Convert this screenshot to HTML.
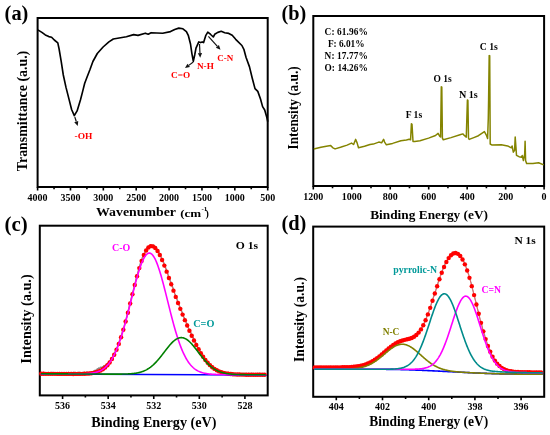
<!DOCTYPE html>
<html><head><meta charset="utf-8"><style>
html,body{margin:0;padding:0;background:#fff;width:550px;height:435px;overflow:hidden}
svg{display:block;will-change:transform}
text{font-family:'Liberation Serif', serif;font-weight:bold}
</style></head><body>
<svg width="550" height="435" viewBox="0 0 550 435">
<rect width="550" height="435" fill="#fff"/>
<rect x="37.60" y="18.00" width="230.10" height="169.00" fill="none" stroke="#000" stroke-width="2.0"/>
<path d="M37.60,187.00V190.50M70.47,187.00V190.50M103.34,187.00V190.50M136.21,187.00V190.50M169.09,187.00V190.50M201.96,187.00V190.50M234.83,187.00V190.50M267.70,187.00V190.50" stroke="#000" stroke-width="1.6" fill="none"/>
<path d="M54.04,187.00V189.20M86.91,187.00V189.20M119.78,187.00V189.20M152.65,187.00V189.20M185.52,187.00V189.20M218.39,187.00V189.20M251.26,187.00V189.20" stroke="#000" stroke-width="1.6" fill="none"/>
<text x="37.60" y="200.50" font-size="10" fill="#000" text-anchor="middle" >4000</text>
<text x="70.47" y="200.50" font-size="10" fill="#000" text-anchor="middle" >3500</text>
<text x="103.34" y="200.50" font-size="10" fill="#000" text-anchor="middle" >3000</text>
<text x="136.21" y="200.50" font-size="10" fill="#000" text-anchor="middle" >2500</text>
<text x="169.09" y="200.50" font-size="10" fill="#000" text-anchor="middle" >2000</text>
<text x="201.96" y="200.50" font-size="10" fill="#000" text-anchor="middle" >1500</text>
<text x="234.83" y="200.50" font-size="10" fill="#000" text-anchor="middle" >1000</text>
<text x="267.70" y="200.50" font-size="10" fill="#000" text-anchor="middle" >500</text>
<path d="M37.80,29.90 L41.90,32.40 L45.30,34.90 L48.80,36.60 L51.60,37.20 L54.30,40.00 L57.80,42.80 L59.10,49.00 L61.20,61.40 L63.30,75.00 L66.00,87.40 L68.80,98.40 L71.60,109.50 L74.30,115.70 L77.10,110.90 L80.50,99.80 L82.60,91.60 L84.70,83.30 L86.70,78.00 L90.00,69.50 L92.90,61.50 L97.30,53.50 L103.10,47.00 L108.90,41.90 L113.30,39.00 L119.10,38.00 L126.40,36.80 L133.60,34.60 L138.00,35.40 L145.30,33.20 L148.20,34.20 L151.10,32.70 L162.70,33.20 L170.50,31.60 L174.70,29.50 L178.80,28.10 L182.90,28.80 L186.40,31.60 L188.40,35.70 L190.50,44.00 L191.90,53.60 L193.30,61.20 L194.70,55.00 L196.00,48.10 L198.80,41.90 L200.60,42.60 L202.20,41.90 L203.60,42.60 L205.70,35.70 L207.80,32.20 L209.80,33.60 L211.20,35.00 L213.30,37.00 L214.70,34.30 L217.80,32.40 L221.20,31.30 L224.70,32.70 L228.80,33.40 L232.20,35.20 L235.70,39.30 L241.90,45.50 L244.00,49.70 L246.00,57.20 L249.50,66.90 L252.20,78.00 L255.00,88.60 L257.80,91.40 L260.50,99.00 L262.60,106.60 L264.70,110.00 L266.70,116.90 L267.80,121.70" fill="none" stroke="#000" stroke-width="1.65" stroke-linejoin="round"/>
<path d="M74.80,117.00L76.27,121.53" stroke="#111" stroke-width="1.2"/>
<path d="M77.70,125.90L74.28,122.18L78.27,120.88Z" fill="#111"/>
<path d="M193.30,62.00L188.71,65.38" stroke="#111" stroke-width="1.2"/>
<path d="M185.00,68.10L187.46,63.68L189.95,67.07Z" fill="#111"/>
<path d="M199.50,44.00L199.97,53.21" stroke="#111" stroke-width="1.2"/>
<path d="M200.20,57.80L197.87,53.31L202.06,53.10Z" fill="#111"/>
<path d="M208.40,36.40L217.40,46.30" stroke="#111" stroke-width="1.2"/>
<path d="M220.50,49.70L215.85,47.71L218.96,44.88Z" fill="#111"/>
<text x="74.50" y="138.60" font-size="9.2" fill="#ff0000" text-anchor="start" textLength="17.80" lengthAdjust="spacingAndGlyphs" >-OH</text>
<text x="171.10" y="78.20" font-size="9.2" fill="#ff0000" text-anchor="start" textLength="19.10" lengthAdjust="spacingAndGlyphs" >C=O</text>
<text x="197.00" y="69.30" font-size="9.2" fill="#ff0000" text-anchor="start" textLength="16.80" lengthAdjust="spacingAndGlyphs" >N-H</text>
<text x="217.30" y="60.60" font-size="9.2" fill="#ff0000" text-anchor="start" textLength="16.00" lengthAdjust="spacingAndGlyphs" >C-N</text>
<text x="96" y="216.2" font-size="13.5" textLength="80" lengthAdjust="spacingAndGlyphs">Wavenumber</text>
<text x="180.2" y="216.6" font-size="10" textLength="21" lengthAdjust="spacingAndGlyphs">(cm</text>
<text x="201.5" y="211" font-size="7">-1</text>
<text x="205.6" y="216.8" font-size="10">)</text>
<text transform="translate(27.20,111.00) rotate(-90)" font-size="13.8" text-anchor="middle" textLength="120.50" lengthAdjust="spacingAndGlyphs">Transmittance (a.u.)</text>
<text x="4.60" y="19.80" font-size="20.5" fill="#000" text-anchor="start" textLength="23.80" lengthAdjust="spacingAndGlyphs" >(a)</text>
<rect x="313.30" y="16.00" width="230.80" height="170.00" fill="none" stroke="#000" stroke-width="2.0"/>
<path d="M544.10,186.00V189.50M505.63,186.00V189.50M467.17,186.00V189.50M428.70,186.00V189.50M390.23,186.00V189.50M351.77,186.00V189.50M313.30,186.00V189.50" stroke="#000" stroke-width="1.6" fill="none"/>
<path d="M524.87,186.00V188.20M486.40,186.00V188.20M447.93,186.00V188.20M409.47,186.00V188.20M371.00,186.00V188.20M332.53,186.00V188.20" stroke="#000" stroke-width="1.6" fill="none"/>
<text x="544.10" y="199.50" font-size="10" fill="#000" text-anchor="middle" >0</text>
<text x="505.63" y="199.50" font-size="10" fill="#000" text-anchor="middle" >200</text>
<text x="467.17" y="199.50" font-size="10" fill="#000" text-anchor="middle" >400</text>
<text x="428.70" y="199.50" font-size="10" fill="#000" text-anchor="middle" >600</text>
<text x="390.23" y="199.50" font-size="10" fill="#000" text-anchor="middle" >800</text>
<text x="351.77" y="199.50" font-size="10" fill="#000" text-anchor="middle" >1000</text>
<text x="313.30" y="199.50" font-size="10" fill="#000" text-anchor="middle" >1200</text>
<path d="M313.80,148.90 L320.90,147.30 L326.40,146.20 L330.70,145.60 L332.90,147.80 L335.10,148.90 L340.50,147.30 L347.10,145.10 L351.50,143.10 L353.60,144.50 L355.60,139.40 L357.10,142.90 L358.50,147.80 L364.50,146.20 L370.00,144.50 L373.30,144.10 L378.80,142.10 L381.60,142.80 L383.60,139.30 L384.60,142.10 L386.40,144.80 L392.60,143.40 L400.90,140.70 L406.40,140.00 L409.10,139.30 L410.60,139.80 L411.40,123.80 L412.00,124.40 L413.00,141.40 L414.70,141.40 L420.00,140.70 L428.60,138.10 L435.50,135.50 L438.10,133.40 L439.80,136.40 L440.60,137.00 L441.30,86.80 L441.80,87.20 L442.40,138.10 L443.30,139.80 L451.00,137.60 L460.00,134.80 L462.80,133.90 L464.60,135.70 L466.30,137.10 L467.40,100.00 L467.90,100.30 L468.50,138.00 L469.20,139.40 L473.80,137.60 L478.40,135.70 L484.40,131.60 L486.20,134.80 L487.60,138.50 L488.30,118.00 L488.60,100.00 L489.20,55.60 L489.70,55.80 L490.20,144.00 L491.70,144.90 L501.30,144.70 L507.60,145.90 L511.40,147.80 L512.10,145.90 L513.30,152.20 L514.60,150.30 L515.20,137.10 L515.90,146.60 L516.50,155.40 L519.00,156.70 L521.60,157.30 L522.20,155.40 L523.40,160.50 L524.70,154.10 L525.10,141.20 L525.60,160.50 L526.60,163.60 L532.90,163.60 L538.60,162.70 L543.70,164.90" fill="none" stroke="#848400" stroke-width="1.5" stroke-linejoin="round"/>
<text x="346.2" y="35.1" font-size="9.3" text-anchor="middle" textLength="43.2" lengthAdjust="spacing">C: 61.96%</text>
<text x="346.2" y="46.8" font-size="9.3" text-anchor="middle" textLength="36.6" lengthAdjust="spacing">F: 6.01%</text>
<text x="346.2" y="58.8" font-size="9.3" text-anchor="middle" textLength="43.2" lengthAdjust="spacing">N: 17.77%</text>
<text x="346.2" y="70.5" font-size="9.3" text-anchor="middle" textLength="43.2" lengthAdjust="spacing">O: 14.26%</text>
<text x="405.70" y="118.20" font-size="9.5" fill="#000" text-anchor="start" textLength="16.50" lengthAdjust="spacingAndGlyphs" >F 1s</text>
<text x="433.40" y="82.40" font-size="9.5" fill="#000" text-anchor="start" textLength="18.20" lengthAdjust="spacingAndGlyphs" >O 1s</text>
<text x="458.90" y="97.60" font-size="9.5" fill="#000" text-anchor="start" textLength="18.90" lengthAdjust="spacingAndGlyphs" >N 1s</text>
<text x="479.80" y="49.70" font-size="9.5" fill="#000" text-anchor="start" textLength="18.10" lengthAdjust="spacingAndGlyphs" >C 1s</text>
<text x="370.20" y="219.10" font-size="13.4" fill="#000" text-anchor="start" textLength="117.80" lengthAdjust="spacingAndGlyphs" >Binding Energy (eV)</text>
<text transform="translate(297.80,107.90) rotate(-90)" font-size="13.6" text-anchor="middle" textLength="83.30" lengthAdjust="spacingAndGlyphs">Intensity (a.u.)</text>
<text x="281.40" y="19.80" font-size="20.5" fill="#000" text-anchor="start" textLength="24.80" lengthAdjust="spacingAndGlyphs" >(b)</text>
<rect x="39.80" y="225.70" width="227.90" height="169.70" fill="none" stroke="#000" stroke-width="2.0"/>
<path d="M62.59,395.40V398.90M108.17,395.40V398.90M153.75,395.40V398.90M199.33,395.40V398.90M244.91,395.40V398.90" stroke="#000" stroke-width="1.6" fill="none"/>
<path d="M85.38,395.40V397.60M130.96,395.40V397.60M176.54,395.40V397.60M222.12,395.40V397.60" stroke="#000" stroke-width="1.6" fill="none"/>
<text x="62.59" y="408.50" font-size="10" fill="#000" text-anchor="middle" >536</text>
<text x="108.17" y="408.50" font-size="10" fill="#000" text-anchor="middle" >534</text>
<text x="153.75" y="408.50" font-size="10" fill="#000" text-anchor="middle" >532</text>
<text x="199.33" y="408.50" font-size="10" fill="#000" text-anchor="middle" >530</text>
<text x="244.91" y="408.50" font-size="10" fill="#000" text-anchor="middle" >528</text>
<path d="M40.80,372.59 L41.30,372.96 L41.80,372.75 L42.30,373.04 L42.80,373.06 L43.30,372.39 L43.80,372.33 L44.30,373.32 L44.80,372.63 L45.30,372.61 L45.80,373.52 L46.30,372.89 L46.80,373.33 L47.30,372.90 L47.80,373.10 L48.30,372.52 L48.80,373.10 L49.30,373.38 L49.80,372.97 L50.30,373.24 L50.80,373.15 L51.30,372.43 L51.80,373.26 L52.30,373.06 L52.80,372.72 L53.30,372.40 L53.80,373.40 L54.30,372.93 L54.80,373.23 L55.30,373.42 L55.80,373.23 L56.30,373.48 L56.80,372.85 L57.30,373.34 L57.80,372.91 L58.30,373.50 L58.80,373.44 L59.30,372.50 L59.80,372.55 L60.30,372.65 L60.80,373.55 L61.30,372.92 L61.80,373.15 L62.30,372.76 L62.80,373.01 L63.30,372.86 L63.80,372.82 L64.30,373.11 L64.80,373.11 L65.30,373.49 L65.80,373.23 L66.30,373.53 L66.80,373.44 L67.30,373.60 L67.80,373.22 L68.30,372.61 L68.80,373.45 L69.30,373.58 L69.80,373.51 L70.30,373.11 L70.80,373.28 L71.30,372.68 L71.80,373.42 L72.30,373.11 L72.80,372.77 L73.30,372.50 L73.80,373.45 L74.30,373.61 L74.80,372.53 L75.30,373.38 L75.80,372.91 L76.30,372.60 L76.80,372.77 L77.30,373.33 L77.80,373.46 L78.30,372.46 L78.80,373.14 L79.30,372.45 L79.80,373.25 L80.30,372.78 L80.80,373.43 L81.30,373.54 L81.80,372.96 L82.30,373.53 L82.80,372.69 L83.30,372.40 L83.80,373.01 L84.30,372.31 L84.80,372.48 L85.30,372.71 L85.80,372.93 L86.30,372.35 L86.80,372.17 L87.30,373.12 L87.80,372.41 L88.30,373.13 L88.80,372.99 L89.30,372.29 L89.80,372.30 L90.30,372.28 L90.80,372.32 L91.30,372.13 L91.80,371.95 L92.30,371.86 L92.80,372.07 L93.30,371.36 L93.80,371.06 L94.30,371.18 L94.80,370.36 L95.30,370.19 L95.80,370.74 L96.30,369.92 L96.80,369.68 L97.30,368.76 L97.80,368.97 L98.30,368.90 L98.80,367.96 L99.30,368.42 L99.80,368.20 L100.30,367.28 L100.80,367.73 L101.30,367.32 L101.80,367.37 L102.30,366.76 L102.80,366.97 L103.30,366.79 L103.80,365.70 L104.30,365.49 L104.80,365.96 L105.30,366.01 L105.80,364.83 L106.30,364.72 L106.80,364.49 L107.30,363.74 L107.80,363.32 L108.30,362.76 L108.80,362.28 L109.30,361.96 L109.80,360.98 L110.30,360.40 L110.80,360.16 L111.30,358.52 L111.80,358.38 L112.30,357.75 L112.80,356.36 L113.30,355.35 L113.80,355.09 L114.30,353.42 L114.80,352.33 L115.30,351.55 L115.80,350.76 L116.30,348.89 L116.80,347.96 L117.30,346.73 L117.80,346.06 L118.30,344.27 L118.80,343.41 L119.30,341.19 L119.80,339.95 L120.30,338.85 L120.80,337.61 L121.30,335.53 L121.80,333.66 L122.30,331.90 L122.80,330.72 L123.30,328.61 L123.80,327.61 L124.30,325.87 L124.80,323.28 L125.30,321.56 L125.80,320.33 L126.30,318.24 L126.80,316.52 L127.30,314.02 L127.80,311.80 L128.30,310.01 L128.80,308.62 L129.30,305.97 L129.80,304.04 L130.30,302.09 L130.80,300.05 L131.30,297.99 L131.80,296.55 L132.30,293.59 L132.80,291.37 L133.30,290.46 L133.80,288.36 L134.30,286.48 L134.80,283.82 L135.30,282.46 L135.80,280.48 L136.30,277.71 L136.80,276.44 L137.30,274.69 L137.80,272.65 L138.30,270.69 L138.80,268.66 L139.30,267.02 L139.80,265.22 L140.30,263.42 L140.80,262.49 L141.30,260.62 L141.80,259.81 L142.30,257.51 L142.80,257.21 L143.30,255.70 L143.80,254.79 L144.30,253.63 L144.80,252.58 L145.30,251.21 L145.80,249.62 L146.30,249.66 L146.80,248.21 L147.30,247.67 L147.80,247.50 L148.30,246.79 L148.80,246.20 L149.30,246.45 L149.80,245.75 L150.30,245.20 L150.80,244.94 L151.30,245.59 L151.80,245.12 L152.30,245.56 L152.80,245.19 L153.30,245.22 L153.80,245.91 L154.30,246.60 L154.80,246.24 L155.30,247.47 L155.80,248.18 L156.30,248.65 L156.80,249.34 L157.30,249.08 L157.80,250.61 L158.30,251.73 L158.80,251.63 L159.30,252.83 L159.80,253.80 L160.30,255.13 L160.80,256.07 L161.30,257.23 L161.80,258.72 L162.30,258.96 L162.80,260.22 L163.30,261.53 L163.80,262.78 L164.30,263.99 L164.80,266.37 L165.30,267.54 L165.80,267.95 L166.30,269.80 L166.80,270.93 L167.30,272.30 L167.80,273.73 L168.30,275.47 L168.80,276.79 L169.30,277.91 L169.80,279.11 L170.30,280.68 L170.80,281.83 L171.30,283.75 L171.80,285.34 L172.30,286.33 L172.80,287.36 L173.30,288.87 L173.80,290.48 L174.30,292.14 L174.80,293.72 L175.30,294.60 L175.80,296.46 L176.30,297.59 L176.80,298.70 L177.30,299.96 L177.80,301.43 L178.30,302.99 L178.80,303.96 L179.30,305.58 L179.80,306.59 L180.30,307.61 L180.80,309.23 L181.30,310.68 L181.80,311.19 L182.30,312.85 L182.80,314.09 L183.30,315.86 L183.80,317.15 L184.30,317.69 L184.80,319.52 L185.30,320.59 L185.80,321.14 L186.30,322.56 L186.80,323.32 L187.30,325.31 L187.80,326.28 L188.30,327.70 L188.80,328.72 L189.30,329.70 L189.80,330.89 L190.30,331.80 L190.80,332.34 L191.30,334.01 L191.80,334.39 L192.30,335.63 L192.80,337.44 L193.30,337.61 L193.80,338.70 L194.30,339.73 L194.80,341.68 L195.30,341.83 L195.80,342.63 L196.30,344.58 L196.80,344.68 L197.30,346.49 L197.80,347.21 L198.30,348.32 L198.80,349.35 L199.30,349.79 L199.80,350.91 L200.30,350.85 L200.80,352.56 L201.30,353.06 L201.80,354.10 L202.30,354.15 L202.80,355.69 L203.30,356.65 L203.80,356.33 L204.30,357.35 L204.80,358.33 L205.30,359.31 L205.80,359.26 L206.30,359.82 L206.80,360.52 L207.30,361.55 L207.80,362.29 L208.30,362.42 L208.80,362.92 L209.30,363.48 L209.80,363.93 L210.30,364.49 L210.80,364.56 L211.30,365.51 L211.80,366.51 L212.30,366.25 L212.80,367.05 L213.30,366.73 L213.80,367.73 L214.30,368.16 L214.80,368.40 L215.30,368.53 L215.80,368.79 L216.30,369.28 L216.80,369.86 L217.30,369.23 L217.80,369.41 L218.30,370.44 L218.80,370.87 L219.30,370.60 L219.80,370.72 L220.30,371.24 L220.80,370.78 L221.30,371.05 L221.80,371.14 L222.30,371.75 L222.80,371.57 L223.30,371.61 L223.80,372.29 L224.30,372.72 L224.80,372.05 L225.30,372.65 L225.80,372.40 L226.30,373.02 L226.80,372.78 L227.30,372.48 L227.80,372.50 L228.30,372.34 L228.80,372.95 L229.30,372.90 L229.80,372.70 L230.30,372.98 L230.80,372.99 L231.30,373.58 L231.80,372.86 L232.30,373.92 L232.80,373.34 L233.30,373.52 L233.80,373.40 L234.30,373.87 L234.80,373.88 L235.30,373.59 L235.80,373.52 L236.30,373.83 L236.80,374.01 L237.30,373.48 L237.80,373.90 L238.30,374.19 L238.80,373.61 L239.30,373.34 L239.80,373.36 L240.30,373.95 L240.80,373.91 L241.30,374.26 L241.80,374.15 L242.30,373.42 L242.80,373.37 L243.30,373.46 L243.80,373.38 L244.30,374.00 L244.80,374.20 L245.30,374.25 L245.80,373.48 L246.30,374.22 L246.80,373.56 L247.30,373.70 L247.80,374.07 L248.30,373.30 L248.80,373.31 L249.30,374.21 L249.80,373.56 L250.30,373.64 L250.80,373.91 L251.30,374.03 L251.80,373.23 L252.30,373.63 L252.80,373.75 L253.30,373.82 L253.80,373.49 L254.30,373.94 L254.80,374.39 L255.30,373.71 L255.80,373.90 L256.30,373.39 L256.80,373.58 L257.30,374.05 L257.80,373.39 L258.30,374.32 L258.80,374.35 L259.30,373.38 L259.80,374.39 L260.30,373.72 L260.80,374.20 L261.30,374.18 L261.80,373.63 L262.30,374.09 L262.80,374.06 L263.30,374.25 L263.80,373.60 L264.30,374.19 L264.80,374.44 L265.30,374.10 L265.80,373.93" fill="none" stroke="#8a8a8a" stroke-width="1.3"/>
<path d="M40.80,373.80 L41.30,373.81 L41.80,373.81 L42.30,373.81 L42.80,373.81 L43.30,373.82 L43.80,373.82 L44.30,373.82 L44.80,373.82 L45.30,373.82 L45.80,373.83 L46.30,373.83 L46.80,373.83 L47.30,373.83 L47.80,373.84 L48.30,373.84 L48.80,373.84 L49.30,373.84 L49.80,373.84 L50.30,373.85 L50.80,373.85 L51.30,373.85 L51.80,373.85 L52.30,373.85 L52.80,373.86 L53.30,373.86 L53.80,373.86 L54.30,373.86 L54.80,373.87 L55.30,373.87 L55.80,373.87 L56.30,373.87 L56.80,373.87 L57.30,373.88 L57.80,373.88 L58.30,373.88 L58.80,373.88 L59.30,373.88 L59.80,373.89 L60.30,373.89 L60.80,373.89 L61.30,373.89 L61.80,373.90 L62.30,373.90 L62.80,373.90 L63.30,373.90 L63.80,373.90 L64.30,373.90 L64.80,373.91 L65.30,373.91 L65.80,373.91 L66.30,373.91 L66.80,373.91 L67.30,373.92 L67.80,373.92 L68.30,373.92 L68.80,373.92 L69.30,373.92 L69.80,373.92 L70.30,373.92 L70.80,373.92 L71.30,373.92 L71.80,373.92 L72.30,373.93 L72.80,373.93 L73.30,373.93 L73.80,373.92 L74.30,373.92 L74.80,373.92 L75.30,373.92 L75.80,373.92 L76.30,373.92 L76.80,373.92 L77.30,373.91 L77.80,373.91 L78.30,373.90 L78.80,373.90 L79.30,373.89 L79.80,373.89 L80.30,373.88 L80.80,373.87 L81.30,373.86 L81.80,373.85 L82.30,373.84 L82.80,373.82 L83.30,373.81 L83.80,373.79 L84.30,373.77 L84.80,373.75 L85.30,373.73 L85.80,373.71 L86.30,373.68 L86.80,373.65 L87.30,373.62 L87.80,373.58 L88.30,373.54 L88.80,373.50 L89.30,373.46 L89.80,373.41 L90.30,373.35 L90.80,373.29 L91.30,373.23 L91.80,373.16 L92.30,373.08 L92.80,373.00 L93.30,372.91 L93.80,372.82 L94.30,372.71 L94.80,372.60 L95.30,372.48 L95.80,372.36 L96.30,372.22 L96.80,372.07 L97.30,371.91 L97.80,371.74 L98.30,371.56 L98.80,371.37 L99.30,371.16 L99.80,370.94 L100.30,370.70 L100.80,370.45 L101.30,370.18 L101.80,369.90 L102.30,369.59 L102.80,369.27 L103.30,368.93 L103.80,368.57 L104.30,368.19 L104.80,367.78 L105.30,367.35 L105.80,366.90 L106.30,366.42 L106.80,365.92 L107.30,365.39 L107.80,364.83 L108.30,364.25 L108.80,363.63 L109.30,362.98 L109.80,362.30 L110.30,361.59 L110.80,360.85 L111.30,360.07 L111.80,359.26 L112.30,358.41 L112.80,357.53 L113.30,356.61 L113.80,355.65 L114.30,354.65 L114.80,353.61 L115.30,352.54 L115.80,351.42 L116.30,350.27 L116.80,349.07 L117.30,347.84 L117.80,346.56 L118.30,345.24 L118.80,343.88 L119.30,342.48 L119.80,341.04 L120.30,339.57 L120.80,338.05 L121.30,336.49 L121.80,334.89 L122.30,333.26 L122.80,331.59 L123.30,329.88 L123.80,328.14 L124.30,326.37 L124.80,324.56 L125.30,322.73 L125.80,320.86 L126.30,318.97 L126.80,317.05 L127.30,315.11 L127.80,313.14 L128.30,311.16 L128.80,309.16 L129.30,307.15 L129.80,305.12 L130.30,303.09 L130.80,301.04 L131.30,299.00 L131.80,296.95 L132.30,294.90 L132.80,292.86 L133.30,290.83 L133.80,288.80 L134.30,286.79 L134.80,284.80 L135.30,282.82 L135.80,280.87 L136.30,278.94 L136.80,277.05 L137.30,275.18 L137.80,273.35 L138.30,271.56 L138.80,269.81 L139.30,268.11 L139.80,266.45 L140.30,264.84 L140.80,263.28 L141.30,261.78 L141.80,260.34 L142.30,258.95 L142.80,257.63 L143.30,256.37 L143.80,255.18 L144.30,254.05 L144.80,253.00 L145.30,252.01 L145.80,251.10 L146.30,250.27 L146.80,249.50 L147.30,248.81 L147.80,248.20 L148.30,247.66 L148.80,247.21 L149.30,246.82 L149.80,246.52 L150.30,246.29 L150.80,246.13 L151.30,246.06 L151.80,246.05 L152.30,246.12 L152.80,246.27 L153.30,246.48 L153.80,246.76 L154.30,247.12 L154.80,247.54 L155.30,248.02 L155.80,248.57 L156.30,249.18 L156.80,249.85 L157.30,250.58 L157.80,251.36 L158.30,252.19 L158.80,253.07 L159.30,254.01 L159.80,254.98 L160.30,256.00 L160.80,257.06 L161.30,258.16 L161.80,259.29 L162.30,260.46 L162.80,261.66 L163.30,262.88 L163.80,264.13 L164.30,265.41 L164.80,266.70 L165.30,268.02 L165.80,269.35 L166.30,270.70 L166.80,272.06 L167.30,273.43 L167.80,274.81 L168.30,276.19 L168.80,277.59 L169.30,278.98 L169.80,280.38 L170.30,281.78 L170.80,283.18 L171.30,284.58 L171.80,285.98 L172.30,287.38 L172.80,288.77 L173.30,290.15 L173.80,291.54 L174.30,292.91 L174.80,294.28 L175.30,295.64 L175.80,297.00 L176.30,298.34 L176.80,299.68 L177.30,301.01 L177.80,302.33 L178.30,303.65 L178.80,304.95 L179.30,306.25 L179.80,307.54 L180.30,308.81 L180.80,310.09 L181.30,311.35 L181.80,312.60 L182.30,313.84 L182.80,315.08 L183.30,316.31 L183.80,317.53 L184.30,318.74 L184.80,319.94 L185.30,321.14 L185.80,322.32 L186.30,323.50 L186.80,324.67 L187.30,325.83 L187.80,326.99 L188.30,328.13 L188.80,329.27 L189.30,330.39 L189.80,331.51 L190.30,332.62 L190.80,333.72 L191.30,334.81 L191.80,335.89 L192.30,336.95 L192.80,338.01 L193.30,339.06 L193.80,340.09 L194.30,341.11 L194.80,342.12 L195.30,343.12 L195.80,344.10 L196.30,345.07 L196.80,346.03 L197.30,346.97 L197.80,347.90 L198.30,348.81 L198.80,349.71 L199.30,350.59 L199.80,351.46 L200.30,352.30 L200.80,353.14 L201.30,353.95 L201.80,354.75 L202.30,355.53 L202.80,356.29 L203.30,357.03 L203.80,357.76 L204.30,358.46 L204.80,359.15 L205.30,359.82 L205.80,360.47 L206.30,361.10 L206.80,361.72 L207.30,362.31 L207.80,362.89 L208.30,363.44 L208.80,363.98 L209.30,364.50 L209.80,365.01 L210.30,365.49 L210.80,365.96 L211.30,366.41 L211.80,366.84 L212.30,367.25 L212.80,367.65 L213.30,368.04 L213.80,368.40 L214.30,368.75 L214.80,369.09 L215.30,369.41 L215.80,369.71 L216.30,370.01 L216.80,370.28 L217.30,370.55 L217.80,370.80 L218.30,371.04 L218.80,371.27 L219.30,371.48 L219.80,371.69 L220.30,371.88 L220.80,372.06 L221.30,372.23 L221.80,372.40 L222.30,372.55 L222.80,372.70 L223.30,372.83 L223.80,372.96 L224.30,373.08 L224.80,373.19 L225.30,373.30 L225.80,373.40 L226.30,373.49 L226.80,373.58 L227.30,373.66 L227.80,373.74 L228.30,373.81 L228.80,373.88 L229.30,373.94 L229.80,374.00 L230.30,374.05 L230.80,374.10 L231.30,374.15 L231.80,374.19 L232.30,374.23 L232.80,374.27 L233.30,374.30 L233.80,374.34 L234.30,374.37 L234.80,374.39 L235.30,374.42 L235.80,374.44 L236.30,374.46 L236.80,374.48 L237.30,374.50 L237.80,374.52 L238.30,374.54 L238.80,374.55 L239.30,374.57 L239.80,374.58 L240.30,374.59 L240.80,374.60 L241.30,374.61 L241.80,374.62 L242.30,374.63 L242.80,374.64 L243.30,374.65 L243.80,374.65 L244.30,374.66 L244.80,374.67 L245.30,374.67 L245.80,374.68 L246.30,374.68 L246.80,374.69 L247.30,374.69 L247.80,374.70 L248.30,374.70 L248.80,374.70 L249.30,374.71 L249.80,374.71 L250.30,374.71 L250.80,374.72 L251.30,374.72 L251.80,374.72 L252.30,374.73 L252.80,374.73 L253.30,374.73 L253.80,374.73 L254.30,374.74 L254.80,374.74 L255.30,374.74 L255.80,374.75 L256.30,374.75 L256.80,374.75 L257.30,374.75 L257.80,374.76 L258.30,374.76 L258.80,374.76 L259.30,374.76 L259.80,374.76 L260.30,374.77 L260.80,374.77 L261.30,374.77 L261.80,374.77 L262.30,374.78 L262.80,374.78 L263.30,374.78 L263.80,374.78 L264.30,374.78 L264.80,374.79 L265.30,374.79 L265.80,374.79" fill="none" stroke="#ff5050" stroke-width="0.8"/>
<g fill="#ff0000"><circle cx="41.30" cy="373.81" r="2.2"/><circle cx="43.58" cy="373.82" r="2.2"/><circle cx="45.86" cy="373.83" r="2.2"/><circle cx="48.14" cy="373.84" r="2.2"/><circle cx="50.42" cy="373.85" r="2.2"/><circle cx="52.69" cy="373.86" r="2.2"/><circle cx="54.97" cy="373.87" r="2.2"/><circle cx="57.25" cy="373.88" r="2.2"/><circle cx="59.53" cy="373.89" r="2.2"/><circle cx="61.81" cy="373.90" r="2.2"/><circle cx="64.09" cy="373.90" r="2.2"/><circle cx="66.37" cy="373.91" r="2.2"/><circle cx="68.65" cy="373.92" r="2.2"/><circle cx="70.93" cy="373.92" r="2.2"/><circle cx="73.21" cy="373.93" r="2.2"/><circle cx="75.48" cy="373.92" r="2.2"/><circle cx="77.76" cy="373.91" r="2.2"/><circle cx="80.04" cy="373.88" r="2.2"/><circle cx="82.32" cy="373.84" r="2.2"/><circle cx="84.60" cy="373.76" r="2.2"/><circle cx="86.88" cy="373.65" r="2.2"/><circle cx="89.16" cy="373.47" r="2.2"/><circle cx="91.44" cy="373.21" r="2.2"/><circle cx="93.72" cy="372.83" r="2.2"/><circle cx="96.00" cy="372.30" r="2.2"/><circle cx="98.27" cy="371.57" r="2.2"/><circle cx="100.55" cy="370.58" r="2.2"/><circle cx="102.83" cy="369.25" r="2.2"/><circle cx="105.11" cy="367.52" r="2.2"/><circle cx="107.39" cy="365.29" r="2.2"/><circle cx="109.67" cy="362.48" r="2.2"/><circle cx="111.95" cy="359.01" r="2.2"/><circle cx="114.23" cy="354.79" r="2.2"/><circle cx="116.51" cy="349.78" r="2.2"/><circle cx="118.79" cy="343.92" r="2.2"/><circle cx="121.06" cy="337.23" r="2.2"/><circle cx="123.34" cy="329.73" r="2.2"/><circle cx="125.62" cy="321.52" r="2.2"/><circle cx="127.90" cy="312.74" r="2.2"/><circle cx="130.18" cy="303.57" r="2.2"/><circle cx="132.46" cy="294.25" r="2.2"/><circle cx="134.74" cy="285.04" r="2.2"/><circle cx="137.02" cy="276.23" r="2.2"/><circle cx="139.30" cy="268.12" r="2.2"/><circle cx="141.58" cy="260.98" r="2.2"/><circle cx="143.85" cy="255.05" r="2.2"/><circle cx="146.13" cy="250.54" r="2.2"/><circle cx="148.41" cy="247.55" r="2.2"/><circle cx="150.69" cy="246.16" r="2.2"/><circle cx="152.97" cy="246.33" r="2.2"/><circle cx="155.25" cy="247.97" r="2.2"/><circle cx="157.53" cy="250.93" r="2.2"/><circle cx="159.81" cy="255.00" r="2.2"/><circle cx="162.09" cy="259.96" r="2.2"/><circle cx="164.37" cy="265.58" r="2.2"/><circle cx="166.64" cy="271.63" r="2.2"/><circle cx="168.92" cy="277.93" r="2.2"/><circle cx="171.20" cy="284.31" r="2.2"/><circle cx="173.48" cy="290.66" r="2.2"/><circle cx="175.76" cy="296.89" r="2.2"/><circle cx="178.04" cy="302.97" r="2.2"/><circle cx="180.32" cy="308.86" r="2.2"/><circle cx="182.60" cy="314.58" r="2.2"/><circle cx="184.88" cy="320.13" r="2.2"/><circle cx="187.16" cy="325.50" r="2.2"/><circle cx="189.43" cy="330.70" r="2.2"/><circle cx="191.71" cy="335.70" r="2.2"/><circle cx="193.99" cy="340.49" r="2.2"/><circle cx="196.27" cy="345.02" r="2.2"/><circle cx="198.55" cy="349.26" r="2.2"/><circle cx="200.83" cy="353.18" r="2.2"/><circle cx="203.11" cy="356.75" r="2.2"/><circle cx="205.39" cy="359.93" r="2.2"/><circle cx="207.67" cy="362.73" r="2.2"/><circle cx="209.95" cy="365.15" r="2.2"/><circle cx="212.22" cy="367.19" r="2.2"/><circle cx="214.50" cy="368.89" r="2.2"/><circle cx="216.78" cy="370.27" r="2.2"/><circle cx="219.06" cy="371.38" r="2.2"/><circle cx="221.34" cy="372.25" r="2.2"/><circle cx="223.62" cy="372.91" r="2.2"/><circle cx="225.90" cy="373.42" r="2.2"/><circle cx="228.18" cy="373.79" r="2.2"/><circle cx="230.46" cy="374.07" r="2.2"/><circle cx="232.74" cy="374.26" r="2.2"/><circle cx="235.01" cy="374.40" r="2.2"/><circle cx="237.29" cy="374.50" r="2.2"/><circle cx="239.57" cy="374.57" r="2.2"/><circle cx="241.85" cy="374.62" r="2.2"/><circle cx="244.13" cy="374.66" r="2.2"/><circle cx="246.41" cy="374.68" r="2.2"/><circle cx="248.69" cy="374.70" r="2.2"/><circle cx="250.97" cy="374.72" r="2.2"/><circle cx="253.25" cy="374.73" r="2.2"/><circle cx="255.53" cy="374.74" r="2.2"/><circle cx="257.80" cy="374.76" r="2.2"/><circle cx="260.08" cy="374.77" r="2.2"/><circle cx="262.36" cy="374.78" r="2.2"/><circle cx="264.64" cy="374.79" r="2.2"/></g>
<path d="M40.80,374.00L266.70,375.00" stroke="#0000ff" stroke-width="1.6"/>
<path d="M40.80,373.80 L41.30,373.81 L41.80,373.81 L42.30,373.81 L42.80,373.81 L43.30,373.82 L43.80,373.82 L44.30,373.82 L44.80,373.82 L45.30,373.82 L45.80,373.83 L46.30,373.83 L46.80,373.83 L47.30,373.83 L47.80,373.84 L48.30,373.84 L48.80,373.84 L49.30,373.84 L49.80,373.84 L50.30,373.85 L50.80,373.85 L51.30,373.85 L51.80,373.85 L52.30,373.85 L52.80,373.86 L53.30,373.86 L53.80,373.86 L54.30,373.86 L54.80,373.87 L55.30,373.87 L55.80,373.87 L56.30,373.87 L56.80,373.87 L57.30,373.88 L57.80,373.88 L58.30,373.88 L58.80,373.88 L59.30,373.88 L59.80,373.89 L60.30,373.89 L60.80,373.89 L61.30,373.89 L61.80,373.90 L62.30,373.90 L62.80,373.90 L63.30,373.90 L63.80,373.90 L64.30,373.90 L64.80,373.91 L65.30,373.91 L65.80,373.91 L66.30,373.91 L66.80,373.91 L67.30,373.92 L67.80,373.92 L68.30,373.92 L68.80,373.92 L69.30,373.92 L69.80,373.92 L70.30,373.92 L70.80,373.92 L71.30,373.92 L71.80,373.92 L72.30,373.93 L72.80,373.93 L73.30,373.93 L73.80,373.92 L74.30,373.92 L74.80,373.92 L75.30,373.92 L75.80,373.92 L76.30,373.92 L76.80,373.92 L77.30,373.91 L77.80,373.91 L78.30,373.90 L78.80,373.90 L79.30,373.89 L79.80,373.89 L80.30,373.88 L80.80,373.87 L81.30,373.86 L81.80,373.85 L82.30,373.84 L82.80,373.82 L83.30,373.81 L83.80,373.79 L84.30,373.77 L84.80,373.75 L85.30,373.73 L85.80,373.71 L86.30,373.68 L86.80,373.65 L87.30,373.62 L87.80,373.58 L88.30,373.54 L88.80,373.50 L89.30,373.46 L89.80,373.41 L90.30,373.35 L90.80,373.29 L91.30,373.23 L91.80,373.16 L92.30,373.08 L92.80,373.00 L93.30,372.91 L93.80,372.82 L94.30,372.71 L94.80,372.60 L95.30,372.48 L95.80,372.36 L96.30,372.22 L96.80,372.07 L97.30,371.91 L97.80,371.74 L98.30,371.56 L98.80,371.37 L99.30,371.16 L99.80,370.94 L100.30,370.70 L100.80,370.45 L101.30,370.18 L101.80,369.90 L102.30,369.60 L102.80,369.27 L103.30,368.93 L103.80,368.57 L104.30,368.19 L104.80,367.78 L105.30,367.35 L105.80,366.90 L106.30,366.43 L106.80,365.92 L107.30,365.39 L107.80,364.83 L108.30,364.25 L108.80,363.63 L109.30,362.99 L109.80,362.31 L110.30,361.60 L110.80,360.86 L111.30,360.08 L111.80,359.27 L112.30,358.42 L112.80,357.54 L113.30,356.62 L113.80,355.66 L114.30,354.66 L114.80,353.63 L115.30,352.56 L115.80,351.44 L116.30,350.29 L116.80,349.10 L117.30,347.87 L117.80,346.59 L118.30,345.28 L118.80,343.93 L119.30,342.53 L119.80,341.10 L120.30,339.62 L120.80,338.11 L121.30,336.56 L121.80,334.97 L122.30,333.35 L122.80,331.69 L123.30,329.99 L123.80,328.26 L124.30,326.50 L124.80,324.71 L125.30,322.89 L125.80,321.04 L126.30,319.16 L126.80,317.26 L127.30,315.34 L127.80,313.40 L128.30,311.45 L128.80,309.48 L129.30,307.49 L129.80,305.50 L130.30,303.50 L130.80,301.49 L131.30,299.48 L131.80,297.48 L132.30,295.48 L132.80,293.49 L133.30,291.51 L133.80,289.54 L134.30,287.60 L134.80,285.67 L135.30,283.77 L135.80,281.89 L136.30,280.05 L136.80,278.24 L137.30,276.47 L137.80,274.75 L138.30,273.06 L138.80,271.43 L139.30,269.85 L139.80,268.32 L140.30,266.85 L140.80,265.44 L141.30,264.09 L141.80,262.81 L142.30,261.60 L142.80,260.46 L143.30,259.40 L143.80,258.41 L144.30,257.50 L144.80,256.67 L145.30,255.92 L145.80,255.26 L146.30,254.69 L146.80,254.20 L147.30,253.79 L147.80,253.48 L148.30,253.26 L148.80,253.12 L149.30,253.08 L149.80,253.13 L150.30,253.27 L150.80,253.49 L151.30,253.81 L151.80,254.22 L152.30,254.71 L152.80,255.29 L153.30,255.96 L153.80,256.71 L154.30,257.54 L154.80,258.46 L155.30,259.45 L155.80,260.52 L156.30,261.66 L156.80,262.88 L157.30,264.16 L157.80,265.51 L158.30,266.93 L158.80,268.40 L159.30,269.93 L159.80,271.52 L160.30,273.16 L160.80,274.85 L161.30,276.58 L161.80,278.35 L162.30,280.17 L162.80,282.01 L163.30,283.89 L163.80,285.80 L164.30,287.73 L164.80,289.68 L165.30,291.65 L165.80,293.63 L166.30,295.63 L166.80,297.63 L167.30,299.64 L167.80,301.65 L168.30,303.66 L168.80,305.67 L169.30,307.67 L169.80,309.66 L170.30,311.63 L170.80,313.59 L171.30,315.54 L171.80,317.46 L172.30,319.37 L172.80,321.24 L173.30,323.10 L173.80,324.92 L174.30,326.72 L174.80,328.49 L175.30,330.22 L175.80,331.92 L176.30,333.58 L176.80,335.21 L177.30,336.81 L177.80,338.36 L178.30,339.88 L178.80,341.36 L179.30,342.79 L179.80,344.19 L180.30,345.55 L180.80,346.87 L181.30,348.15 L181.80,349.38 L182.30,350.58 L182.80,351.74 L183.30,352.86 L183.80,353.93 L184.30,354.97 L184.80,355.97 L185.30,356.93 L185.80,357.86 L186.30,358.75 L186.80,359.60 L187.30,360.41 L187.80,361.19 L188.30,361.94 L188.80,362.66 L189.30,363.34 L189.80,363.99 L190.30,364.61 L190.80,365.20 L191.30,365.76 L191.80,366.30 L192.30,366.80 L192.80,367.28 L193.30,367.74 L193.80,368.17 L194.30,368.58 L194.80,368.97 L195.30,369.34 L195.80,369.68 L196.30,370.01 L196.80,370.32 L197.30,370.60 L197.80,370.88 L198.30,371.13 L198.80,371.37 L199.30,371.60 L199.80,371.81 L200.30,372.01 L200.80,372.20 L201.30,372.37 L201.80,372.53 L202.30,372.68 L202.80,372.83 L203.30,372.96 L203.80,373.08 L204.30,373.20 L204.80,373.30 L205.30,373.40 L205.80,373.50 L206.30,373.58 L206.80,373.66 L207.30,373.74 L207.80,373.81 L208.30,373.87 L208.80,373.93 L209.30,373.98 L209.80,374.03 L210.30,374.08 L210.80,374.12 L211.30,374.16 L211.80,374.20 L212.30,374.23 L212.80,374.26 L213.30,374.29 L213.80,374.32 L214.30,374.34 L214.80,374.37 L215.30,374.39 L215.80,374.41 L216.30,374.43 L216.80,374.44 L217.30,374.46 L217.80,374.47 L218.30,374.48 L218.80,374.50 L219.30,374.51 L219.80,374.52 L220.30,374.53 L220.80,374.54 L221.30,374.54 L221.80,374.55 L222.30,374.56 L222.80,374.56 L223.30,374.57 L223.80,374.58 L224.30,374.58 L224.80,374.59 L225.30,374.59 L225.80,374.60 L226.30,374.60 L226.80,374.61 L227.30,374.61 L227.80,374.61 L228.30,374.62 L228.80,374.62 L229.30,374.62 L229.80,374.63 L230.30,374.63 L230.80,374.63 L231.30,374.63 L231.80,374.64 L232.30,374.64 L232.80,374.64 L233.30,374.65 L233.80,374.65 L234.30,374.65 L234.80,374.65 L235.30,374.66 L235.80,374.66 L236.30,374.66 L236.80,374.66 L237.30,374.67 L237.80,374.67 L238.30,374.67 L238.80,374.67 L239.30,374.67 L239.80,374.68 L240.30,374.68 L240.80,374.68 L241.30,374.68 L241.80,374.69 L242.30,374.69 L242.80,374.69 L243.30,374.69 L243.80,374.69 L244.30,374.70 L244.80,374.70 L245.30,374.70 L245.80,374.70 L246.30,374.71 L246.80,374.71 L247.30,374.71 L247.80,374.71 L248.30,374.71 L248.80,374.72 L249.30,374.72 L249.80,374.72 L250.30,374.72 L250.80,374.73 L251.30,374.73 L251.80,374.73 L252.30,374.73 L252.80,374.73 L253.30,374.74 L253.80,374.74 L254.30,374.74 L254.80,374.74 L255.30,374.75 L255.80,374.75 L256.30,374.75 L256.80,374.75 L257.30,374.75 L257.80,374.76 L258.30,374.76 L258.80,374.76 L259.30,374.76 L259.80,374.77 L260.30,374.77 L260.80,374.77 L261.30,374.77 L261.80,374.77 L262.30,374.78 L262.80,374.78 L263.30,374.78 L263.80,374.78 L264.30,374.79 L264.80,374.79 L265.30,374.79 L265.80,374.79" fill="none" stroke="#ff00ff" stroke-width="1.6"/>
<path d="M40.80,373.80 L41.30,373.81 L41.80,373.81 L42.30,373.81 L42.80,373.81 L43.30,373.82 L43.80,373.82 L44.30,373.82 L44.80,373.82 L45.30,373.82 L45.80,373.83 L46.30,373.83 L46.80,373.83 L47.30,373.83 L47.80,373.84 L48.30,373.84 L48.80,373.84 L49.30,373.84 L49.80,373.84 L50.30,373.85 L50.80,373.85 L51.30,373.85 L51.80,373.85 L52.30,373.85 L52.80,373.86 L53.30,373.86 L53.80,373.86 L54.30,373.86 L54.80,373.87 L55.30,373.87 L55.80,373.87 L56.30,373.87 L56.80,373.87 L57.30,373.88 L57.80,373.88 L58.30,373.88 L58.80,373.88 L59.30,373.89 L59.80,373.89 L60.30,373.89 L60.80,373.89 L61.30,373.89 L61.80,373.90 L62.30,373.90 L62.80,373.90 L63.30,373.90 L63.80,373.91 L64.30,373.91 L64.80,373.91 L65.30,373.91 L65.80,373.91 L66.30,373.92 L66.80,373.92 L67.30,373.92 L67.80,373.92 L68.30,373.93 L68.80,373.93 L69.30,373.93 L69.80,373.93 L70.30,373.93 L70.80,373.94 L71.30,373.94 L71.80,373.94 L72.30,373.94 L72.80,373.94 L73.30,373.95 L73.80,373.95 L74.30,373.95 L74.80,373.95 L75.30,373.96 L75.80,373.96 L76.30,373.96 L76.80,373.96 L77.30,373.96 L77.80,373.97 L78.30,373.97 L78.80,373.97 L79.30,373.97 L79.80,373.98 L80.30,373.98 L80.80,373.98 L81.30,373.98 L81.80,373.98 L82.30,373.99 L82.80,373.99 L83.30,373.99 L83.80,373.99 L84.30,374.00 L84.80,374.00 L85.30,374.00 L85.80,374.00 L86.30,374.00 L86.80,374.01 L87.30,374.01 L87.80,374.01 L88.30,374.01 L88.80,374.01 L89.30,374.02 L89.80,374.02 L90.30,374.02 L90.80,374.02 L91.30,374.03 L91.80,374.03 L92.30,374.03 L92.80,374.03 L93.30,374.03 L93.80,374.04 L94.30,374.04 L94.80,374.04 L95.30,374.04 L95.80,374.05 L96.30,374.05 L96.80,374.05 L97.30,374.05 L97.80,374.05 L98.30,374.06 L98.80,374.06 L99.30,374.06 L99.80,374.06 L100.30,374.07 L100.80,374.07 L101.30,374.07 L101.80,374.07 L102.30,374.07 L102.80,374.08 L103.30,374.08 L103.80,374.08 L104.30,374.08 L104.80,374.08 L105.30,374.09 L105.80,374.09 L106.30,374.09 L106.80,374.09 L107.30,374.09 L107.80,374.10 L108.30,374.10 L108.80,374.10 L109.30,374.10 L109.80,374.10 L110.30,374.10 L110.80,374.10 L111.30,374.11 L111.80,374.11 L112.30,374.11 L112.80,374.11 L113.30,374.11 L113.80,374.11 L114.30,374.11 L114.80,374.11 L115.30,374.11 L115.80,374.11 L116.30,374.11 L116.80,374.11 L117.30,374.11 L117.80,374.11 L118.30,374.11 L118.80,374.10 L119.30,374.10 L119.80,374.10 L120.30,374.09 L120.80,374.09 L121.30,374.09 L121.80,374.08 L122.30,374.07 L122.80,374.07 L123.30,374.06 L123.80,374.05 L124.30,374.04 L124.80,374.03 L125.30,374.01 L125.80,374.00 L126.30,373.98 L126.80,373.97 L127.30,373.95 L127.80,373.93 L128.30,373.90 L128.80,373.88 L129.30,373.85 L129.80,373.82 L130.30,373.79 L130.80,373.75 L131.30,373.71 L131.80,373.67 L132.30,373.63 L132.80,373.58 L133.30,373.53 L133.80,373.47 L134.30,373.41 L134.80,373.34 L135.30,373.27 L135.80,373.20 L136.30,373.12 L136.80,373.03 L137.30,372.94 L137.80,372.84 L138.30,372.73 L138.80,372.62 L139.30,372.50 L139.80,372.37 L140.30,372.23 L140.80,372.09 L141.30,371.94 L141.80,371.77 L142.30,371.60 L142.80,371.42 L143.30,371.23 L143.80,371.03 L144.30,370.81 L144.80,370.59 L145.30,370.35 L145.80,370.11 L146.30,369.85 L146.80,369.58 L147.30,369.29 L147.80,368.99 L148.30,368.68 L148.80,368.36 L149.30,368.02 L149.80,367.67 L150.30,367.31 L150.80,366.93 L151.30,366.53 L151.80,366.13 L152.30,365.70 L152.80,365.27 L153.30,364.82 L153.80,364.35 L154.30,363.88 L154.80,363.39 L155.30,362.88 L155.80,362.36 L156.30,361.83 L156.80,361.29 L157.30,360.73 L157.80,360.16 L158.30,359.58 L158.80,358.99 L159.30,358.40 L159.80,357.79 L160.30,357.17 L160.80,356.54 L161.30,355.91 L161.80,355.27 L162.30,354.63 L162.80,353.98 L163.30,353.33 L163.80,352.68 L164.30,352.03 L164.80,351.37 L165.30,350.72 L165.80,350.07 L166.30,349.42 L166.80,348.78 L167.30,348.14 L167.80,347.51 L168.30,346.89 L168.80,346.28 L169.30,345.68 L169.80,345.10 L170.30,344.52 L170.80,343.97 L171.30,343.42 L171.80,342.90 L172.30,342.39 L172.80,341.91 L173.30,341.44 L173.80,341.00 L174.30,340.58 L174.80,340.19 L175.30,339.82 L175.80,339.47 L176.30,339.16 L176.80,338.87 L177.30,338.61 L177.80,338.38 L178.30,338.18 L178.80,338.01 L179.30,337.87 L179.80,337.76 L180.30,337.68 L180.80,337.63 L181.30,337.62 L181.80,337.64 L182.30,337.69 L182.80,337.77 L183.30,337.88 L183.80,338.03 L184.30,338.20 L184.80,338.41 L185.30,338.64 L185.80,338.91 L186.30,339.20 L186.80,339.52 L187.30,339.87 L187.80,340.24 L188.30,340.64 L188.80,341.07 L189.30,341.51 L189.80,341.98 L190.30,342.47 L190.80,342.98 L191.30,343.51 L191.80,344.06 L192.30,344.62 L192.80,345.20 L193.30,345.79 L193.80,346.39 L194.30,347.01 L194.80,347.63 L195.30,348.27 L195.80,348.91 L196.30,349.55 L196.80,350.20 L197.30,350.86 L197.80,351.52 L198.30,352.18 L198.80,352.83 L199.30,353.49 L199.80,354.15 L200.30,354.80 L200.80,355.45 L201.30,356.09 L201.80,356.72 L202.30,357.35 L202.80,357.98 L203.30,358.59 L203.80,359.19 L204.30,359.79 L204.80,360.37 L205.30,360.94 L205.80,361.50 L206.30,362.05 L206.80,362.59 L207.30,363.11 L207.80,363.62 L208.30,364.11 L208.80,364.60 L209.30,365.06 L209.80,365.52 L210.30,365.96 L210.80,366.39 L211.30,366.80 L211.80,367.19 L212.30,367.58 L212.80,367.95 L213.30,368.30 L213.80,368.65 L214.30,368.97 L214.80,369.29 L215.30,369.59 L215.80,369.88 L216.30,370.15 L216.80,370.42 L217.30,370.67 L217.80,370.91 L218.30,371.14 L218.80,371.36 L219.30,371.56 L219.80,371.76 L220.30,371.94 L220.80,372.12 L221.30,372.29 L221.80,372.44 L222.30,372.59 L222.80,372.73 L223.30,372.87 L223.80,372.99 L224.30,373.11 L224.80,373.22 L225.30,373.32 L225.80,373.42 L226.30,373.51 L226.80,373.60 L227.30,373.68 L227.80,373.75 L228.30,373.82 L228.80,373.89 L229.30,373.95 L229.80,374.01 L230.30,374.06 L230.80,374.11 L231.30,374.15 L231.80,374.20 L232.30,374.24 L232.80,374.27 L233.30,374.31 L233.80,374.34 L234.30,374.37 L234.80,374.40 L235.30,374.42 L235.80,374.44 L236.30,374.47 L236.80,374.49 L237.30,374.50 L237.80,374.52 L238.30,374.54 L238.80,374.55 L239.30,374.57 L239.80,374.58 L240.30,374.59 L240.80,374.60 L241.30,374.61 L241.80,374.62 L242.30,374.63 L242.80,374.64 L243.30,374.65 L243.80,374.65 L244.30,374.66 L244.80,374.67 L245.30,374.67 L245.80,374.68 L246.30,374.68 L246.80,374.69 L247.30,374.69 L247.80,374.70 L248.30,374.70 L248.80,374.70 L249.30,374.71 L249.80,374.71 L250.30,374.71 L250.80,374.72 L251.30,374.72 L251.80,374.72 L252.30,374.73 L252.80,374.73 L253.30,374.73 L253.80,374.73 L254.30,374.74 L254.80,374.74 L255.30,374.74 L255.80,374.75 L256.30,374.75 L256.80,374.75 L257.30,374.75 L257.80,374.76 L258.30,374.76 L258.80,374.76 L259.30,374.76 L259.80,374.76 L260.30,374.77 L260.80,374.77 L261.30,374.77 L261.80,374.77 L262.30,374.78 L262.80,374.78 L263.30,374.78 L263.80,374.78 L264.30,374.78 L264.80,374.79 L265.30,374.79 L265.80,374.79" fill="none" stroke="#008000" stroke-width="1.6"/>
<text x="112.00" y="250.60" font-size="9.5" fill="#ff00ff" text-anchor="start" textLength="18.30" lengthAdjust="spacingAndGlyphs" >C-O</text>
<text x="193.20" y="326.70" font-size="9.5" fill="#009999" text-anchor="start" textLength="21.20" lengthAdjust="spacingAndGlyphs" >C=O</text>
<text x="235.80" y="248.70" font-size="11.2" fill="#000" text-anchor="start" textLength="22.30" lengthAdjust="spacingAndGlyphs" >O 1s</text>
<text x="91.30" y="426.60" font-size="14.2" fill="#000" text-anchor="start" textLength="125.20" lengthAdjust="spacingAndGlyphs" >Binding Energy (eV)</text>
<text transform="translate(30.80,319.00) rotate(-90)" font-size="14.2" text-anchor="middle" textLength="89.30" lengthAdjust="spacingAndGlyphs">Intensity (a.u.)</text>
<text x="4.60" y="231.00" font-size="20.5" fill="#000" text-anchor="start" textLength="23.20" lengthAdjust="spacingAndGlyphs" >(c)</text>
<rect x="313.20" y="226.60" width="231.00" height="170.20" fill="none" stroke="#000" stroke-width="2.0"/>
<path d="M336.30,396.80V400.30M382.50,396.80V400.30M428.70,396.80V400.30M474.90,396.80V400.30M521.10,396.80V400.30" stroke="#000" stroke-width="1.6" fill="none"/>
<path d="M359.40,396.80V399.00M405.60,396.80V399.00M451.80,396.80V399.00M498.00,396.80V399.00" stroke="#000" stroke-width="1.6" fill="none"/>
<text x="336.30" y="410.00" font-size="10" fill="#000" text-anchor="middle" >404</text>
<text x="382.50" y="410.00" font-size="10" fill="#000" text-anchor="middle" >402</text>
<text x="428.70" y="410.00" font-size="10" fill="#000" text-anchor="middle" >400</text>
<text x="474.90" y="410.00" font-size="10" fill="#000" text-anchor="middle" >398</text>
<text x="521.10" y="410.00" font-size="10" fill="#000" text-anchor="middle" >396</text>
<path d="M314.20,366.44 L314.70,366.89 L315.20,366.72 L315.70,367.16 L316.20,367.11 L316.70,366.98 L317.20,366.52 L317.70,367.07 L318.20,367.06 L318.70,366.51 L319.20,367.37 L319.70,367.09 L320.20,366.45 L320.70,367.42 L321.20,366.47 L321.70,366.70 L322.20,367.16 L322.70,367.02 L323.20,366.96 L323.70,367.08 L324.20,366.85 L324.70,366.67 L325.20,366.51 L325.70,366.38 L326.20,367.16 L326.70,367.20 L327.20,366.95 L327.70,367.18 L328.20,366.73 L328.70,366.61 L329.20,366.75 L329.70,367.34 L330.20,366.34 L330.70,366.90 L331.20,366.59 L331.70,367.21 L332.20,366.71 L332.70,366.69 L333.20,366.77 L333.70,366.93 L334.20,367.21 L334.70,366.70 L335.20,367.29 L335.70,366.41 L336.20,366.60 L336.70,366.39 L337.20,366.40 L337.70,367.20 L338.20,367.13 L338.70,366.48 L339.20,366.48 L339.70,366.74 L340.20,367.13 L340.70,367.21 L341.20,367.12 L341.70,366.93 L342.20,366.38 L342.70,366.68 L343.20,366.42 L343.70,366.81 L344.20,366.85 L344.70,366.40 L345.20,366.44 L345.70,367.07 L346.20,366.15 L346.70,367.06 L347.20,367.15 L347.70,367.20 L348.20,366.50 L348.70,366.68 L349.20,366.69 L349.70,366.72 L350.20,367.11 L350.70,366.73 L351.20,366.23 L351.70,366.87 L352.20,366.38 L352.70,366.48 L353.20,366.58 L353.70,365.67 L354.20,366.54 L354.70,366.36 L355.20,366.10 L355.70,366.08 L356.20,365.94 L356.70,365.55 L357.20,365.88 L357.70,365.21 L358.20,365.69 L358.70,365.78 L359.20,365.44 L359.70,365.50 L360.20,365.87 L360.70,365.68 L361.20,364.66 L361.70,365.33 L362.20,365.00 L362.70,364.18 L363.20,364.42 L363.70,364.12 L364.20,363.78 L364.70,364.18 L365.20,364.48 L365.70,363.58 L366.20,364.06 L366.70,363.66 L367.20,362.79 L367.70,363.45 L368.20,362.93 L368.70,363.10 L369.20,362.62 L369.70,362.41 L370.20,361.69 L370.70,361.99 L371.20,361.87 L371.70,361.51 L372.20,360.72 L372.70,360.82 L373.20,360.19 L373.70,359.43 L374.20,359.03 L374.70,358.75 L375.20,358.56 L375.70,358.18 L376.20,358.23 L376.70,358.12 L377.20,357.56 L377.70,357.05 L378.20,356.94 L378.70,356.14 L379.20,355.94 L379.70,355.89 L380.20,355.06 L380.70,354.39 L381.20,354.84 L381.70,354.21 L382.20,353.36 L382.70,352.94 L383.20,352.71 L383.70,352.36 L384.20,351.48 L384.70,350.78 L385.20,350.60 L385.70,350.86 L386.20,349.66 L386.70,349.61 L387.20,348.87 L387.70,348.46 L388.20,347.99 L388.70,347.86 L389.20,347.16 L389.70,346.59 L390.20,346.29 L390.70,345.96 L391.20,345.96 L391.70,345.07 L392.20,344.65 L392.70,344.80 L393.20,344.40 L393.70,344.42 L394.20,343.30 L394.70,343.40 L395.20,343.08 L395.70,342.34 L396.20,343.18 L396.70,342.01 L397.20,341.59 L397.70,341.80 L398.20,341.18 L398.70,341.50 L399.20,340.95 L399.70,340.48 L400.20,340.20 L400.70,340.82 L401.20,340.10 L401.70,340.55 L402.20,340.01 L402.70,340.42 L403.20,339.52 L403.70,339.33 L404.20,339.22 L404.70,339.76 L405.20,339.41 L405.70,338.96 L406.20,338.54 L406.70,339.13 L407.20,339.36 L407.70,338.79 L408.20,337.96 L408.70,337.86 L409.20,337.80 L409.70,337.75 L410.20,337.43 L410.70,337.28 L411.20,337.82 L411.70,337.92 L412.20,336.87 L412.70,337.56 L413.20,336.71 L413.70,336.82 L414.20,336.66 L414.70,336.35 L415.20,334.91 L415.70,334.85 L416.20,334.79 L416.70,334.75 L417.20,333.24 L417.70,332.96 L418.20,333.08 L418.70,331.60 L419.20,331.30 L419.70,330.56 L420.20,330.26 L420.70,329.81 L421.20,328.11 L421.70,327.95 L422.20,327.06 L422.70,326.26 L423.20,324.96 L423.70,324.40 L424.20,322.68 L424.70,321.65 L425.20,320.30 L425.70,319.79 L426.20,318.22 L426.70,316.72 L427.20,315.32 L427.70,314.66 L428.20,313.17 L428.70,311.92 L429.20,310.12 L429.70,308.80 L430.20,306.93 L430.70,306.11 L431.20,303.78 L431.70,302.79 L432.20,301.59 L432.70,299.94 L433.20,297.67 L433.70,296.26 L434.20,295.41 L434.70,293.58 L435.20,292.28 L435.70,290.69 L436.20,288.60 L436.70,287.57 L437.20,285.81 L437.70,283.79 L438.20,282.30 L438.70,280.43 L439.20,279.33 L439.70,278.53 L440.20,276.06 L440.70,275.20 L441.20,273.26 L441.70,271.87 L442.20,271.23 L442.70,269.45 L443.20,267.97 L443.70,266.88 L444.20,266.30 L444.70,265.09 L445.20,263.32 L445.70,262.53 L446.20,262.42 L446.70,260.56 L447.20,260.07 L447.70,259.04 L448.20,258.66 L448.70,257.69 L449.20,257.20 L449.70,256.23 L450.20,255.21 L450.70,254.64 L451.20,254.03 L451.70,254.48 L452.20,253.23 L452.70,252.79 L453.20,253.64 L453.70,252.50 L454.20,253.17 L454.70,252.09 L455.20,252.50 L455.70,252.22 L456.20,253.03 L456.70,252.90 L457.20,253.13 L457.70,253.53 L458.20,253.99 L458.70,253.74 L459.20,254.49 L459.70,254.81 L460.20,254.99 L460.70,256.50 L461.20,256.91 L461.70,257.94 L462.20,258.04 L462.70,259.34 L463.20,260.21 L463.70,261.55 L464.20,261.86 L464.70,263.33 L465.20,264.71 L465.70,265.48 L466.20,267.39 L466.70,268.99 L467.20,270.06 L467.70,271.83 L468.20,273.33 L468.70,274.46 L469.20,276.28 L469.70,278.75 L470.20,279.70 L470.70,281.59 L471.20,283.00 L471.70,285.01 L472.20,286.84 L472.70,289.68 L473.20,291.38 L473.70,293.52 L474.20,295.64 L474.70,297.19 L475.20,299.59 L475.70,301.14 L476.20,303.03 L476.70,305.70 L477.20,307.68 L477.70,309.77 L478.20,311.23 L478.70,313.59 L479.20,315.14 L479.70,317.83 L480.20,319.70 L480.70,320.88 L481.20,323.56 L481.70,324.55 L482.20,326.30 L482.70,328.88 L483.20,330.16 L483.70,332.19 L484.20,334.05 L484.70,335.01 L485.20,337.50 L485.70,338.53 L486.20,340.27 L486.70,341.68 L487.20,343.62 L487.70,345.04 L488.20,345.87 L488.70,346.97 L489.20,348.49 L489.70,349.85 L490.20,350.64 L490.70,351.87 L491.20,353.69 L491.70,354.67 L492.20,356.00 L492.70,356.96 L493.20,357.76 L493.70,358.02 L494.20,358.60 L494.70,359.57 L495.20,360.51 L495.70,361.30 L496.20,361.99 L496.70,362.41 L497.20,363.61 L497.70,363.50 L498.20,364.25 L498.70,365.27 L499.20,365.66 L499.70,365.50 L500.20,365.85 L500.70,366.93 L501.20,366.35 L501.70,366.84 L502.20,367.65 L502.70,367.96 L503.20,367.81 L503.70,367.94 L504.20,368.37 L504.70,369.28 L505.20,369.14 L505.70,369.96 L506.20,369.91 L506.70,370.32 L507.20,369.35 L507.70,369.68 L508.20,369.62 L508.70,370.25 L509.20,370.26 L509.70,370.02 L510.20,370.72 L510.70,370.27 L511.20,370.62 L511.70,370.62 L512.20,371.36 L512.70,370.97 L513.20,370.84 L513.70,370.64 L514.20,371.15 L514.70,371.43 L515.20,371.53 L515.70,371.85 L516.20,371.76 L516.70,371.12 L517.20,371.01 L517.70,371.79 L518.20,371.85 L518.70,371.54 L519.20,371.95 L519.70,371.63 L520.20,371.33 L520.70,371.21 L521.20,371.05 L521.70,371.82 L522.20,372.14 L522.70,372.16 L523.20,371.65 L523.70,371.90 L524.20,372.23 L524.70,372.10 L525.20,371.86 L525.70,371.65 L526.20,371.78 L526.70,371.38 L527.20,371.40 L527.70,372.01 L528.20,372.39 L528.70,371.86 L529.20,371.71 L529.70,371.65 L530.20,371.78 L530.70,372.20 L531.20,371.79 L531.70,372.40 L532.20,371.44 L532.70,371.64 L533.20,371.89 L533.70,371.77 L534.20,372.30 L534.70,372.27 L535.20,372.40 L535.70,372.02 L536.20,371.33 L536.70,371.98 L537.20,371.95 L537.70,371.88 L538.20,371.63 L538.70,372.15 L539.20,372.39 L539.70,371.42 L540.20,372.10 L540.70,371.75 L541.20,371.92 L541.70,372.37 L542.20,372.45 L542.70,372.07" fill="none" stroke="#9a9a9a" stroke-width="1.2"/>
<path d="M314.20,367.40 L314.70,367.40 L315.20,367.40 L315.70,367.40 L316.20,367.40 L316.70,367.40 L317.20,367.40 L317.70,367.40 L318.20,367.40 L318.70,367.40 L319.20,367.40 L319.70,367.40 L320.20,367.40 L320.70,367.40 L321.20,367.40 L321.70,367.40 L322.20,367.40 L322.70,367.40 L323.20,367.40 L323.70,367.40 L324.20,367.40 L324.70,367.40 L325.20,367.40 L325.70,367.40 L326.20,367.40 L326.70,367.40 L327.20,367.40 L327.70,367.40 L328.20,367.40 L328.70,367.39 L329.20,367.39 L329.70,367.39 L330.20,367.39 L330.70,367.39 L331.20,367.39 L331.70,367.39 L332.20,367.39 L332.70,367.39 L333.20,367.38 L333.70,367.38 L334.20,367.38 L334.70,367.38 L335.20,367.38 L335.70,367.37 L336.20,367.37 L336.70,367.37 L337.20,367.37 L337.70,367.36 L338.20,367.36 L338.70,367.35 L339.20,367.35 L339.70,367.34 L340.20,367.34 L340.70,367.33 L341.20,367.32 L341.70,367.32 L342.20,367.31 L342.70,367.30 L343.20,367.29 L343.70,367.28 L344.20,367.27 L344.70,367.26 L345.20,367.24 L345.70,367.23 L346.20,367.21 L346.70,367.20 L347.20,367.18 L347.70,367.16 L348.20,367.14 L348.70,367.11 L349.20,367.09 L349.70,367.06 L350.20,367.03 L350.70,367.00 L351.20,366.97 L351.70,366.93 L352.20,366.90 L352.70,366.86 L353.20,366.81 L353.70,366.77 L354.20,366.72 L354.70,366.66 L355.20,366.61 L355.70,366.55 L356.20,366.48 L356.70,366.42 L357.20,366.34 L357.70,366.27 L358.20,366.19 L358.70,366.10 L359.20,366.01 L359.70,365.92 L360.20,365.82 L360.70,365.71 L361.20,365.60 L361.70,365.48 L362.20,365.35 L362.70,365.22 L363.20,365.09 L363.70,364.94 L364.20,364.79 L364.70,364.63 L365.20,364.47 L365.70,364.29 L366.20,364.11 L366.70,363.92 L367.20,363.73 L367.70,363.52 L368.20,363.31 L368.70,363.09 L369.20,362.86 L369.70,362.62 L370.20,362.37 L370.70,362.12 L371.20,361.85 L371.70,361.58 L372.20,361.30 L372.70,361.01 L373.20,360.71 L373.70,360.40 L374.20,360.08 L374.70,359.76 L375.20,359.42 L375.70,359.08 L376.20,358.73 L376.70,358.38 L377.20,358.01 L377.70,357.64 L378.20,357.26 L378.70,356.88 L379.20,356.48 L379.70,356.09 L380.20,355.68 L380.70,355.27 L381.20,354.86 L381.70,354.44 L382.20,354.02 L382.70,353.60 L383.20,353.17 L383.70,352.74 L384.20,352.31 L384.70,351.88 L385.20,351.45 L385.70,351.02 L386.20,350.59 L386.70,350.16 L387.20,349.73 L387.70,349.31 L388.20,348.89 L388.70,348.47 L389.20,348.06 L389.70,347.65 L390.20,347.25 L390.70,346.86 L391.20,346.47 L391.70,346.10 L392.20,345.73 L392.70,345.37 L393.20,345.01 L393.70,344.67 L394.20,344.34 L394.70,344.02 L395.20,343.71 L395.70,343.41 L396.20,343.12 L396.70,342.84 L397.20,342.58 L397.70,342.33 L398.20,342.09 L398.70,341.86 L399.20,341.64 L399.70,341.43 L400.20,341.23 L400.70,341.05 L401.20,340.87 L401.70,340.71 L402.20,340.55 L402.70,340.40 L403.20,340.26 L403.70,340.13 L404.20,340.00 L404.70,339.88 L405.20,339.76 L405.70,339.64 L406.20,339.53 L406.70,339.41 L407.20,339.29 L407.70,339.18 L408.20,339.05 L408.70,338.92 L409.20,338.79 L409.70,338.64 L410.20,338.49 L410.70,338.32 L411.20,338.14 L411.70,337.94 L412.20,337.72 L412.70,337.49 L413.20,337.23 L413.70,336.96 L414.20,336.65 L414.70,336.33 L415.20,335.97 L415.70,335.58 L416.20,335.17 L416.70,334.72 L417.20,334.23 L417.70,333.71 L418.20,333.16 L418.70,332.56 L419.20,331.93 L419.70,331.26 L420.20,330.55 L420.70,329.79 L421.20,329.00 L421.70,328.16 L422.20,327.28 L422.70,326.36 L423.20,325.39 L423.70,324.39 L424.20,323.34 L424.70,322.25 L425.20,321.12 L425.70,319.95 L426.20,318.74 L426.70,317.50 L427.20,316.22 L427.70,314.90 L428.20,313.55 L428.70,312.17 L429.20,310.75 L429.70,309.31 L430.20,307.85 L430.70,306.36 L431.20,304.85 L431.70,303.33 L432.20,301.78 L432.70,300.22 L433.20,298.66 L433.70,297.08 L434.20,295.50 L434.70,293.91 L435.20,292.33 L435.70,290.74 L436.20,289.16 L436.70,287.59 L437.20,286.03 L437.70,284.49 L438.20,282.96 L438.70,281.44 L439.20,279.95 L439.70,278.48 L440.20,277.04 L440.70,275.62 L441.20,274.23 L441.70,272.88 L442.20,271.55 L442.70,270.26 L443.20,269.01 L443.70,267.80 L444.20,266.62 L444.70,265.49 L445.20,264.40 L445.70,263.36 L446.20,262.35 L446.70,261.40 L447.20,260.49 L447.70,259.63 L448.20,258.82 L448.70,258.06 L449.20,257.35 L449.70,256.69 L450.20,256.08 L450.70,255.53 L451.20,255.03 L451.70,254.58 L452.20,254.19 L452.70,253.86 L453.20,253.58 L453.70,253.36 L454.20,253.20 L454.70,253.09 L455.20,253.04 L455.70,253.06 L456.20,253.13 L456.70,253.27 L457.20,253.46 L457.70,253.72 L458.20,254.04 L458.70,254.42 L459.20,254.87 L459.70,255.38 L460.20,255.95 L460.70,256.59 L461.20,257.30 L461.70,258.07 L462.20,258.90 L462.70,259.79 L463.20,260.75 L463.70,261.78 L464.20,262.86 L464.70,264.01 L465.20,265.22 L465.70,266.49 L466.20,267.82 L466.70,269.21 L467.20,270.66 L467.70,272.15 L468.20,273.71 L468.70,275.31 L469.20,276.96 L469.70,278.66 L470.20,280.40 L470.70,282.18 L471.20,284.00 L471.70,285.85 L472.20,287.74 L472.70,289.66 L473.20,291.60 L473.70,293.57 L474.20,295.56 L474.70,297.56 L475.20,299.58 L475.70,301.60 L476.20,303.63 L476.70,305.67 L477.20,307.70 L477.70,309.73 L478.20,311.75 L478.70,313.76 L479.20,315.75 L479.70,317.73 L480.20,319.69 L480.70,321.63 L481.20,323.54 L481.70,325.43 L482.20,327.29 L482.70,329.11 L483.20,330.91 L483.70,332.66 L484.20,334.38 L484.70,336.06 L485.20,337.70 L485.70,339.30 L486.20,340.85 L486.70,342.36 L487.20,343.83 L487.70,345.25 L488.20,346.62 L488.70,347.95 L489.20,349.23 L489.70,350.46 L490.20,351.65 L490.70,352.79 L491.20,353.88 L491.70,354.93 L492.20,355.93 L492.70,356.89 L493.20,357.80 L493.70,358.68 L494.20,359.51 L494.70,360.30 L495.20,361.05 L495.70,361.76 L496.20,362.44 L496.70,363.08 L497.20,363.69 L497.70,364.26 L498.20,364.80 L498.70,365.31 L499.20,365.79 L499.70,366.24 L500.20,366.66 L500.70,367.06 L501.20,367.43 L501.70,367.79 L502.20,368.11 L502.70,368.42 L503.20,368.71 L503.70,368.98 L504.20,369.23 L504.70,369.46 L505.20,369.68 L505.70,369.88 L506.20,370.07 L506.70,370.25 L507.20,370.41 L507.70,370.56 L508.20,370.70 L508.70,370.83 L509.20,370.95 L509.70,371.06 L510.20,371.17 L510.70,371.26 L511.20,371.35 L511.70,371.43 L512.20,371.50 L512.70,371.57 L513.20,371.63 L513.70,371.68 L514.20,371.73 L514.70,371.78 L515.20,371.82 L515.70,371.85 L516.20,371.89 L516.70,371.92 L517.20,371.95 L517.70,371.98 L518.20,372.00 L518.70,372.03 L519.20,372.05 L519.70,372.07 L520.20,372.09 L520.70,372.11 L521.20,372.13 L521.70,372.14 L522.20,372.16 L522.70,372.17 L523.20,372.19 L523.70,372.20 L524.20,372.22 L524.70,372.23 L525.20,372.24 L525.70,372.25 L526.20,372.26 L526.70,372.27 L527.20,372.28 L527.70,372.29 L528.20,372.30 L528.70,372.31 L529.20,372.32 L529.70,372.32 L530.20,372.33 L530.70,372.34 L531.20,372.34 L531.70,372.35 L532.20,372.36 L532.70,372.36 L533.20,372.37 L533.70,372.37 L534.20,372.38 L534.70,372.38 L535.20,372.38 L535.70,372.39 L536.20,372.39 L536.70,372.39 L537.20,372.39 L537.70,372.40 L538.20,372.40 L538.70,372.40 L539.20,372.40 L539.70,372.40 L540.20,372.40 L540.70,372.40 L541.20,372.40 L541.70,372.40 L542.20,372.40 L542.70,372.40" fill="none" stroke="#ff5050" stroke-width="0.8"/>
<g fill="#ff0000"><circle cx="314.70" cy="367.40" r="2.2"/><circle cx="317.01" cy="367.40" r="2.2"/><circle cx="319.32" cy="367.40" r="2.2"/><circle cx="321.63" cy="367.40" r="2.2"/><circle cx="323.94" cy="367.40" r="2.2"/><circle cx="326.25" cy="367.40" r="2.2"/><circle cx="328.56" cy="367.39" r="2.2"/><circle cx="330.87" cy="367.39" r="2.2"/><circle cx="333.18" cy="367.39" r="2.2"/><circle cx="335.49" cy="367.38" r="2.2"/><circle cx="337.80" cy="367.36" r="2.2"/><circle cx="340.11" cy="367.34" r="2.2"/><circle cx="342.42" cy="367.31" r="2.2"/><circle cx="344.73" cy="367.26" r="2.2"/><circle cx="347.04" cy="367.18" r="2.2"/><circle cx="349.35" cy="367.08" r="2.2"/><circle cx="351.66" cy="366.94" r="2.2"/><circle cx="353.97" cy="366.74" r="2.2"/><circle cx="356.28" cy="366.47" r="2.2"/><circle cx="358.59" cy="366.12" r="2.2"/><circle cx="360.90" cy="365.66" r="2.2"/><circle cx="363.21" cy="365.08" r="2.2"/><circle cx="365.52" cy="364.36" r="2.2"/><circle cx="367.83" cy="363.47" r="2.2"/><circle cx="370.14" cy="362.40" r="2.2"/><circle cx="372.45" cy="361.15" r="2.2"/><circle cx="374.76" cy="359.72" r="2.2"/><circle cx="377.07" cy="358.11" r="2.2"/><circle cx="379.38" cy="356.34" r="2.2"/><circle cx="381.69" cy="354.45" r="2.2"/><circle cx="384.00" cy="352.48" r="2.2"/><circle cx="386.31" cy="350.49" r="2.2"/><circle cx="388.62" cy="348.54" r="2.2"/><circle cx="390.93" cy="346.68" r="2.2"/><circle cx="393.24" cy="344.99" r="2.2"/><circle cx="395.55" cy="343.50" r="2.2"/><circle cx="397.86" cy="342.25" r="2.2"/><circle cx="400.17" cy="341.25" r="2.2"/><circle cx="402.48" cy="340.47" r="2.2"/><circle cx="404.79" cy="339.86" r="2.2"/><circle cx="407.10" cy="339.32" r="2.2"/><circle cx="409.41" cy="338.73" r="2.2"/><circle cx="411.72" cy="337.93" r="2.2"/><circle cx="414.03" cy="336.76" r="2.2"/><circle cx="416.34" cy="335.04" r="2.2"/><circle cx="418.65" cy="332.62" r="2.2"/><circle cx="420.96" cy="329.38" r="2.2"/><circle cx="423.27" cy="325.26" r="2.2"/><circle cx="425.58" cy="320.24" r="2.2"/><circle cx="427.89" cy="314.39" r="2.2"/><circle cx="430.20" cy="307.85" r="2.2"/><circle cx="432.51" cy="300.82" r="2.2"/><circle cx="434.82" cy="293.53" r="2.2"/><circle cx="437.13" cy="286.25" r="2.2"/><circle cx="439.44" cy="279.24" r="2.2"/><circle cx="441.75" cy="272.74" r="2.2"/><circle cx="444.06" cy="266.95" r="2.2"/><circle cx="446.37" cy="262.02" r="2.2"/><circle cx="448.68" cy="258.09" r="2.2"/><circle cx="450.99" cy="255.23" r="2.2"/><circle cx="453.30" cy="253.53" r="2.2"/><circle cx="455.61" cy="253.05" r="2.2"/><circle cx="457.92" cy="253.85" r="2.2"/><circle cx="460.23" cy="255.99" r="2.2"/><circle cx="462.54" cy="259.50" r="2.2"/><circle cx="464.85" cy="264.37" r="2.2"/><circle cx="467.16" cy="270.54" r="2.2"/><circle cx="469.47" cy="277.87" r="2.2"/><circle cx="471.78" cy="286.15" r="2.2"/><circle cx="474.09" cy="295.12" r="2.2"/><circle cx="476.40" cy="304.45" r="2.2"/><circle cx="478.71" cy="313.80" r="2.2"/><circle cx="481.02" cy="322.86" r="2.2"/><circle cx="483.33" cy="331.37" r="2.2"/><circle cx="485.64" cy="339.11" r="2.2"/><circle cx="487.95" cy="345.94" r="2.2"/><circle cx="490.26" cy="351.78" r="2.2"/><circle cx="492.57" cy="356.64" r="2.2"/><circle cx="494.88" cy="360.58" r="2.2"/><circle cx="497.19" cy="363.67" r="2.2"/><circle cx="499.50" cy="366.06" r="2.2"/><circle cx="501.81" cy="367.86" r="2.2"/><circle cx="504.12" cy="369.19" r="2.2"/><circle cx="506.43" cy="370.15" r="2.2"/><circle cx="508.74" cy="370.84" r="2.2"/><circle cx="511.05" cy="371.32" r="2.2"/><circle cx="513.36" cy="371.65" r="2.2"/><circle cx="515.67" cy="371.85" r="2.2"/><circle cx="517.98" cy="371.99" r="2.2"/><circle cx="520.29" cy="372.09" r="2.2"/><circle cx="522.60" cy="372.17" r="2.2"/><circle cx="524.91" cy="372.23" r="2.2"/><circle cx="527.22" cy="372.28" r="2.2"/><circle cx="529.53" cy="372.32" r="2.2"/><circle cx="531.84" cy="372.35" r="2.2"/><circle cx="534.15" cy="372.38" r="2.2"/><circle cx="536.46" cy="372.39" r="2.2"/><circle cx="538.77" cy="372.40" r="2.2"/><circle cx="541.08" cy="372.40" r="2.2"/></g>
<path d="M314.20,369.30 L314.70,369.30 L315.20,369.30 L315.70,369.30 L316.20,369.30 L316.70,369.30 L317.20,369.30 L317.70,369.30 L318.20,369.30 L318.70,369.30 L319.20,369.30 L319.70,369.30 L320.20,369.30 L320.70,369.30 L321.20,369.30 L321.70,369.30 L322.20,369.30 L322.70,369.30 L323.20,369.30 L323.70,369.30 L324.20,369.30 L324.70,369.30 L325.20,369.30 L325.70,369.30 L326.20,369.30 L326.70,369.30 L327.20,369.30 L327.70,369.30 L328.20,369.30 L328.70,369.30 L329.20,369.30 L329.70,369.30 L330.20,369.30 L330.70,369.30 L331.20,369.30 L331.70,369.30 L332.20,369.30 L332.70,369.30 L333.20,369.30 L333.70,369.30 L334.20,369.30 L334.70,369.30 L335.20,369.30 L335.70,369.30 L336.20,369.30 L336.70,369.30 L337.20,369.30 L337.70,369.30 L338.20,369.30 L338.70,369.30 L339.20,369.30 L339.70,369.30 L340.20,369.30 L340.70,369.30 L341.20,369.30 L341.70,369.30 L342.20,369.30 L342.70,369.30 L343.20,369.30 L343.70,369.30 L344.20,369.30 L344.70,369.30 L345.20,369.30 L345.70,369.30 L346.20,369.30 L346.70,369.30 L347.20,369.30 L347.70,369.30 L348.20,369.30 L348.70,369.30 L349.20,369.30 L349.70,369.30 L350.20,369.30 L350.70,369.30 L351.20,369.30 L351.70,369.30 L352.20,369.30 L352.70,369.30 L353.20,369.30 L353.70,369.30 L354.20,369.30 L354.70,369.30 L355.20,369.30 L355.70,369.30 L356.20,369.30 L356.70,369.30 L357.20,369.30 L357.70,369.30 L358.20,369.30 L358.70,369.30 L359.20,369.30 L359.70,369.30 L360.20,369.30 L360.70,369.30 L361.20,369.30 L361.70,369.30 L362.20,369.30 L362.70,369.30 L363.20,369.30 L363.70,369.30 L364.20,369.30 L364.70,369.30 L365.20,369.30 L365.70,369.30 L366.20,369.30 L366.70,369.30 L367.20,369.30 L367.70,369.30 L368.20,369.30 L368.70,369.30 L369.20,369.30 L369.70,369.30 L370.20,369.30 L370.70,369.30 L371.20,369.30 L371.70,369.30 L372.20,369.30 L372.70,369.30 L373.20,369.30 L373.70,369.30 L374.20,369.30 L374.70,369.30 L375.20,369.30 L375.70,369.30 L376.20,369.30 L376.70,369.30 L377.20,369.30 L377.70,369.30 L378.20,369.30 L378.70,369.30 L379.20,369.30 L379.70,369.30 L380.20,369.30 L380.70,369.30 L381.20,369.30 L381.70,369.30 L382.20,369.30 L382.70,369.31 L383.20,369.31 L383.70,369.31 L384.20,369.31 L384.70,369.32 L385.20,369.32 L385.70,369.32 L386.20,369.33 L386.70,369.33 L387.20,369.34 L387.70,369.34 L388.20,369.35 L388.70,369.35 L389.20,369.36 L389.70,369.37 L390.20,369.37 L390.70,369.38 L391.20,369.39 L391.70,369.39 L392.20,369.40 L392.70,369.41 L393.20,369.42 L393.70,369.43 L394.20,369.44 L394.70,369.45 L395.20,369.46 L395.70,369.47 L396.20,369.48 L396.70,369.49 L397.20,369.50 L397.70,369.51 L398.20,369.52 L398.70,369.53 L399.20,369.55 L399.70,369.56 L400.20,369.57 L400.70,369.58 L401.20,369.60 L401.70,369.61 L402.20,369.62 L402.70,369.64 L403.20,369.65 L403.70,369.67 L404.20,369.68 L404.70,369.70 L405.20,369.71 L405.70,369.73 L406.20,369.74 L406.70,369.76 L407.20,369.77 L407.70,369.79 L408.20,369.81 L408.70,369.82 L409.20,369.84 L409.70,369.86 L410.20,369.87 L410.70,369.89 L411.20,369.91 L411.70,369.93 L412.20,369.94 L412.70,369.96 L413.20,369.98 L413.70,370.00 L414.20,370.02 L414.70,370.04 L415.20,370.06 L415.70,370.08 L416.20,370.10 L416.70,370.12 L417.20,370.14 L417.70,370.16 L418.20,370.18 L418.70,370.20 L419.20,370.22 L419.70,370.24 L420.20,370.26 L420.70,370.28 L421.20,370.30 L421.70,370.32 L422.20,370.35 L422.70,370.37 L423.20,370.39 L423.70,370.41 L424.20,370.43 L424.70,370.46 L425.20,370.48 L425.70,370.50 L426.20,370.52 L426.70,370.55 L427.20,370.57 L427.70,370.59 L428.20,370.62 L428.70,370.64 L429.20,370.66 L429.70,370.69 L430.20,370.71 L430.70,370.73 L431.20,370.76 L431.70,370.78 L432.20,370.80 L432.70,370.83 L433.20,370.85 L433.70,370.88 L434.20,370.90 L434.70,370.93 L435.20,370.95 L435.70,370.97 L436.20,371.00 L436.70,371.02 L437.20,371.05 L437.70,371.07 L438.20,371.10 L438.70,371.12 L439.20,371.15 L439.70,371.17 L440.20,371.20 L440.70,371.22 L441.20,371.25 L441.70,371.28 L442.20,371.30 L442.70,371.33 L443.20,371.35 L443.70,371.38 L444.20,371.40 L444.70,371.43 L445.20,371.45 L445.70,371.48 L446.20,371.50 L446.70,371.53 L447.20,371.56 L447.70,371.58 L448.20,371.61 L448.70,371.63 L449.20,371.66 L449.70,371.68 L450.20,371.71 L450.70,371.74 L451.20,371.76 L451.70,371.79 L452.20,371.81 L452.70,371.84 L453.20,371.86 L453.70,371.89 L454.20,371.92 L454.70,371.94 L455.20,371.97 L455.70,371.99 L456.20,372.02 L456.70,372.04 L457.20,372.07 L457.70,372.09 L458.20,372.12 L458.70,372.15 L459.20,372.17 L459.70,372.20 L460.20,372.22 L460.70,372.25 L461.20,372.27 L461.70,372.30 L462.20,372.32 L462.70,372.35 L463.20,372.37 L463.70,372.40 L464.20,372.42 L464.70,372.44 L465.20,372.47 L465.70,372.49 L466.20,372.52 L466.70,372.54 L467.20,372.57 L467.70,372.59 L468.20,372.61 L468.70,372.64 L469.20,372.66 L469.70,372.69 L470.20,372.71 L470.70,372.73 L471.20,372.76 L471.70,372.78 L472.20,372.80 L472.70,372.83 L473.20,372.85 L473.70,372.87 L474.20,372.89 L474.70,372.92 L475.20,372.94 L475.70,372.96 L476.20,372.98 L476.70,373.01 L477.20,373.03 L477.70,373.05 L478.20,373.07 L478.70,373.09 L479.20,373.11 L479.70,373.14 L480.20,373.16 L480.70,373.18 L481.20,373.20 L481.70,373.22 L482.20,373.24 L482.70,373.26 L483.20,373.28 L483.70,373.30 L484.20,373.32 L484.70,373.34 L485.20,373.36 L485.70,373.38 L486.20,373.40 L486.70,373.41 L487.20,373.43 L487.70,373.45 L488.20,373.47 L488.70,373.49 L489.20,373.51 L489.70,373.52 L490.20,373.54 L490.70,373.56 L491.20,373.57 L491.70,373.59 L492.20,373.61 L492.70,373.62 L493.20,373.64 L493.70,373.66 L494.20,373.67 L494.70,373.69 L495.20,373.70 L495.70,373.72 L496.20,373.73 L496.70,373.75 L497.20,373.76 L497.70,373.77 L498.20,373.79 L498.70,373.80 L499.20,373.81 L499.70,373.83 L500.20,373.84 L500.70,373.85 L501.20,373.86 L501.70,373.88 L502.20,373.89 L502.70,373.90 L503.20,373.91 L503.70,373.92 L504.20,373.93 L504.70,373.94 L505.20,373.95 L505.70,373.96 L506.20,373.97 L506.70,373.98 L507.20,373.99 L507.70,374.00 L508.20,374.00 L508.70,374.01 L509.20,374.02 L509.70,374.03 L510.20,374.03 L510.70,374.04 L511.20,374.05 L511.70,374.05 L512.20,374.06 L512.70,374.06 L513.20,374.07 L513.70,374.07 L514.20,374.08 L514.70,374.08 L515.20,374.08 L515.70,374.09 L516.20,374.09 L516.70,374.09 L517.20,374.09 L517.70,374.10 L518.20,374.10 L518.70,374.10 L519.20,374.10 L519.70,374.10 L520.20,374.10 L520.70,374.10 L521.20,374.10 L521.70,374.10 L522.20,374.10 L522.70,374.10 L523.20,374.10 L523.70,374.10 L524.20,374.10 L524.70,374.10 L525.20,374.10 L525.70,374.10 L526.20,374.10 L526.70,374.10 L527.20,374.10 L527.70,374.10 L528.20,374.10 L528.70,374.10 L529.20,374.10 L529.70,374.10 L530.20,374.10 L530.70,374.10 L531.20,374.10 L531.70,374.10 L532.20,374.10 L532.70,374.10 L533.20,374.10 L533.70,374.10 L534.20,374.10 L534.70,374.10 L535.20,374.10 L535.70,374.10 L536.20,374.10 L536.70,374.10 L537.20,374.10 L537.70,374.10 L538.20,374.10 L538.70,374.10 L539.20,374.10 L539.70,374.10 L540.20,374.10 L540.70,374.10 L541.20,374.10 L541.70,374.10 L542.20,374.10 L542.70,374.10" fill="none" stroke="#0000ff" stroke-width="1.6"/>
<path d="M314.20,369.30 L314.70,369.30 L315.20,369.30 L315.70,369.30 L316.20,369.30 L316.70,369.30 L317.20,369.30 L317.70,369.30 L318.20,369.30 L318.70,369.30 L319.20,369.30 L319.70,369.30 L320.20,369.30 L320.70,369.30 L321.20,369.30 L321.70,369.30 L322.20,369.30 L322.70,369.30 L323.20,369.30 L323.70,369.30 L324.20,369.30 L324.70,369.30 L325.20,369.30 L325.70,369.30 L326.20,369.30 L326.70,369.30 L327.20,369.30 L327.70,369.30 L328.20,369.30 L328.70,369.29 L329.20,369.29 L329.70,369.29 L330.20,369.29 L330.70,369.29 L331.20,369.29 L331.70,369.29 L332.20,369.29 L332.70,369.29 L333.20,369.28 L333.70,369.28 L334.20,369.28 L334.70,369.28 L335.20,369.28 L335.70,369.27 L336.20,369.27 L336.70,369.27 L337.20,369.27 L337.70,369.26 L338.20,369.26 L338.70,369.25 L339.20,369.25 L339.70,369.24 L340.20,369.24 L340.70,369.23 L341.20,369.22 L341.70,369.22 L342.20,369.21 L342.70,369.20 L343.20,369.19 L343.70,369.18 L344.20,369.17 L344.70,369.16 L345.20,369.14 L345.70,369.13 L346.20,369.11 L346.70,369.10 L347.20,369.08 L347.70,369.06 L348.20,369.04 L348.70,369.01 L349.20,368.99 L349.70,368.96 L350.20,368.93 L350.70,368.90 L351.20,368.87 L351.70,368.83 L352.20,368.80 L352.70,368.76 L353.20,368.71 L353.70,368.67 L354.20,368.62 L354.70,368.56 L355.20,368.51 L355.70,368.45 L356.20,368.38 L356.70,368.32 L357.20,368.24 L357.70,368.17 L358.20,368.09 L358.70,368.00 L359.20,367.91 L359.70,367.82 L360.20,367.72 L360.70,367.61 L361.20,367.50 L361.70,367.38 L362.20,367.25 L362.70,367.12 L363.20,366.99 L363.70,366.84 L364.20,366.69 L364.70,366.53 L365.20,366.37 L365.70,366.19 L366.20,366.01 L366.70,365.82 L367.20,365.63 L367.70,365.42 L368.20,365.21 L368.70,364.99 L369.20,364.76 L369.70,364.52 L370.20,364.27 L370.70,364.02 L371.20,363.75 L371.70,363.48 L372.20,363.20 L372.70,362.91 L373.20,362.61 L373.70,362.30 L374.20,361.98 L374.70,361.66 L375.20,361.33 L375.70,360.98 L376.20,360.64 L376.70,360.28 L377.20,359.91 L377.70,359.54 L378.20,359.17 L378.70,358.78 L379.20,358.39 L379.70,357.99 L380.20,357.59 L380.70,357.18 L381.20,356.77 L381.70,356.36 L382.20,355.94 L382.70,355.52 L383.20,355.10 L383.70,354.67 L384.20,354.25 L384.70,353.82 L385.20,353.40 L385.70,352.98 L386.20,352.56 L386.70,352.14 L387.20,351.72 L387.70,351.31 L388.20,350.90 L388.70,350.50 L389.20,350.11 L389.70,349.72 L390.20,349.34 L390.70,348.97 L391.20,348.60 L391.70,348.25 L392.20,347.91 L392.70,347.58 L393.20,347.26 L393.70,346.95 L394.20,346.66 L394.70,346.38 L395.20,346.12 L395.70,345.87 L396.20,345.63 L396.70,345.42 L397.20,345.22 L397.70,345.03 L398.20,344.87 L398.70,344.72 L399.20,344.60 L399.70,344.49 L400.20,344.40 L400.70,344.32 L401.20,344.27 L401.70,344.24 L402.20,344.23 L402.70,344.24 L403.20,344.27 L403.70,344.31 L404.20,344.38 L404.70,344.47 L405.20,344.57 L405.70,344.70 L406.20,344.84 L406.70,345.01 L407.20,345.19 L407.70,345.39 L408.20,345.61 L408.70,345.84 L409.20,346.09 L409.70,346.36 L410.20,346.64 L410.70,346.94 L411.20,347.25 L411.70,347.57 L412.20,347.91 L412.70,348.26 L413.20,348.63 L413.70,349.00 L414.20,349.38 L414.70,349.78 L415.20,350.18 L415.70,350.59 L416.20,351.00 L416.70,351.43 L417.20,351.86 L417.70,352.29 L418.20,352.73 L418.70,353.17 L419.20,353.62 L419.70,354.06 L420.20,354.51 L420.70,354.96 L421.20,355.41 L421.70,355.86 L422.20,356.31 L422.70,356.75 L423.20,357.19 L423.70,357.63 L424.20,358.07 L424.70,358.50 L425.20,358.93 L425.70,359.35 L426.20,359.77 L426.70,360.18 L427.20,360.59 L427.70,360.98 L428.20,361.38 L428.70,361.76 L429.20,362.14 L429.70,362.51 L430.20,362.87 L430.70,363.22 L431.20,363.57 L431.70,363.90 L432.20,364.23 L432.70,364.55 L433.20,364.86 L433.70,365.17 L434.20,365.46 L434.70,365.75 L435.20,366.02 L435.70,366.29 L436.20,366.55 L436.70,366.80 L437.20,367.05 L437.70,367.28 L438.20,367.51 L438.70,367.72 L439.20,367.93 L439.70,368.14 L440.20,368.33 L440.70,368.52 L441.20,368.70 L441.70,368.88 L442.20,369.04 L442.70,369.20 L443.20,369.36 L443.70,369.50 L444.20,369.64 L444.70,369.78 L445.20,369.91 L445.70,370.03 L446.20,370.15 L446.70,370.27 L447.20,370.38 L447.70,370.48 L448.20,370.58 L448.70,370.68 L449.20,370.77 L449.70,370.86 L450.20,370.94 L450.70,371.02 L451.20,371.10 L451.70,371.17 L452.20,371.24 L452.70,371.31 L453.20,371.38 L453.70,371.44 L454.20,371.50 L454.70,371.56 L455.20,371.61 L455.70,371.67 L456.20,371.72 L456.70,371.77 L457.20,371.81 L457.70,371.86 L458.20,371.90 L458.70,371.95 L459.20,371.99 L459.70,372.03 L460.20,372.07 L460.70,372.11 L461.20,372.14 L461.70,372.18 L462.20,372.22 L462.70,372.25 L463.20,372.28 L463.70,372.32 L464.20,372.35 L464.70,372.38 L465.20,372.41 L465.70,372.44 L466.20,372.47 L466.70,372.50 L467.20,372.53 L467.70,372.55 L468.20,372.58 L468.70,372.61 L469.20,372.64 L469.70,372.66 L470.20,372.69 L470.70,372.71 L471.20,372.74 L471.70,372.76 L472.20,372.79 L472.70,372.81 L473.20,372.84 L473.70,372.86 L474.20,372.89 L474.70,372.91 L475.20,372.93 L475.70,372.96 L476.20,372.98 L476.70,373.00 L477.20,373.02 L477.70,373.05 L478.20,373.07 L478.70,373.09 L479.20,373.11 L479.70,373.13 L480.20,373.15 L480.70,373.18 L481.20,373.20 L481.70,373.22 L482.20,373.24 L482.70,373.26 L483.20,373.28 L483.70,373.30 L484.20,373.32 L484.70,373.34 L485.20,373.36 L485.70,373.38 L486.20,373.40 L486.70,373.41 L487.20,373.43 L487.70,373.45 L488.20,373.47 L488.70,373.49 L489.20,373.51 L489.70,373.52 L490.20,373.54 L490.70,373.56 L491.20,373.57 L491.70,373.59 L492.20,373.61 L492.70,373.62 L493.20,373.64 L493.70,373.66 L494.20,373.67 L494.70,373.69 L495.20,373.70 L495.70,373.72 L496.20,373.73 L496.70,373.75 L497.20,373.76 L497.70,373.77 L498.20,373.79 L498.70,373.80 L499.20,373.81 L499.70,373.83 L500.20,373.84 L500.70,373.85 L501.20,373.86 L501.70,373.88 L502.20,373.89 L502.70,373.90 L503.20,373.91 L503.70,373.92 L504.20,373.93 L504.70,373.94 L505.20,373.95 L505.70,373.96 L506.20,373.97 L506.70,373.98 L507.20,373.99 L507.70,374.00 L508.20,374.00 L508.70,374.01 L509.20,374.02 L509.70,374.03 L510.20,374.03 L510.70,374.04 L511.20,374.05 L511.70,374.05 L512.20,374.06 L512.70,374.06 L513.20,374.07 L513.70,374.07 L514.20,374.08 L514.70,374.08 L515.20,374.08 L515.70,374.09 L516.20,374.09 L516.70,374.09 L517.20,374.09 L517.70,374.10 L518.20,374.10 L518.70,374.10 L519.20,374.10 L519.70,374.10 L520.20,374.10 L520.70,374.10 L521.20,374.10 L521.70,374.10 L522.20,374.10 L522.70,374.10 L523.20,374.10 L523.70,374.10 L524.20,374.10 L524.70,374.10 L525.20,374.10 L525.70,374.10 L526.20,374.10 L526.70,374.10 L527.20,374.10 L527.70,374.10 L528.20,374.10 L528.70,374.10 L529.20,374.10 L529.70,374.10 L530.20,374.10 L530.70,374.10 L531.20,374.10 L531.70,374.10 L532.20,374.10 L532.70,374.10 L533.20,374.10 L533.70,374.10 L534.20,374.10 L534.70,374.10 L535.20,374.10 L535.70,374.10 L536.20,374.10 L536.70,374.10 L537.20,374.10 L537.70,374.10 L538.20,374.10 L538.70,374.10 L539.20,374.10 L539.70,374.10 L540.20,374.10 L540.70,374.10 L541.20,374.10 L541.70,374.10 L542.20,374.10 L542.70,374.10" fill="none" stroke="#808000" stroke-width="1.6"/>
<path d="M314.20,369.30 L314.70,369.30 L315.20,369.30 L315.70,369.30 L316.20,369.30 L316.70,369.30 L317.20,369.30 L317.70,369.30 L318.20,369.30 L318.70,369.30 L319.20,369.30 L319.70,369.30 L320.20,369.30 L320.70,369.30 L321.20,369.30 L321.70,369.30 L322.20,369.30 L322.70,369.30 L323.20,369.30 L323.70,369.30 L324.20,369.30 L324.70,369.30 L325.20,369.30 L325.70,369.30 L326.20,369.30 L326.70,369.30 L327.20,369.30 L327.70,369.30 L328.20,369.30 L328.70,369.30 L329.20,369.30 L329.70,369.30 L330.20,369.30 L330.70,369.30 L331.20,369.30 L331.70,369.30 L332.20,369.30 L332.70,369.30 L333.20,369.30 L333.70,369.30 L334.20,369.30 L334.70,369.30 L335.20,369.30 L335.70,369.30 L336.20,369.30 L336.70,369.30 L337.20,369.30 L337.70,369.30 L338.20,369.30 L338.70,369.30 L339.20,369.30 L339.70,369.30 L340.20,369.30 L340.70,369.30 L341.20,369.30 L341.70,369.30 L342.20,369.30 L342.70,369.30 L343.20,369.30 L343.70,369.30 L344.20,369.30 L344.70,369.30 L345.20,369.30 L345.70,369.30 L346.20,369.30 L346.70,369.30 L347.20,369.30 L347.70,369.30 L348.20,369.30 L348.70,369.30 L349.20,369.30 L349.70,369.30 L350.20,369.30 L350.70,369.30 L351.20,369.30 L351.70,369.30 L352.20,369.30 L352.70,369.30 L353.20,369.30 L353.70,369.30 L354.20,369.30 L354.70,369.30 L355.20,369.30 L355.70,369.30 L356.20,369.30 L356.70,369.30 L357.20,369.30 L357.70,369.30 L358.20,369.30 L358.70,369.30 L359.20,369.30 L359.70,369.30 L360.20,369.30 L360.70,369.30 L361.20,369.30 L361.70,369.30 L362.20,369.30 L362.70,369.30 L363.20,369.30 L363.70,369.30 L364.20,369.30 L364.70,369.30 L365.20,369.30 L365.70,369.30 L366.20,369.30 L366.70,369.30 L367.20,369.30 L367.70,369.30 L368.20,369.30 L368.70,369.30 L369.20,369.30 L369.70,369.30 L370.20,369.30 L370.70,369.30 L371.20,369.30 L371.70,369.30 L372.20,369.30 L372.70,369.30 L373.20,369.30 L373.70,369.30 L374.20,369.30 L374.70,369.30 L375.20,369.30 L375.70,369.30 L376.20,369.30 L376.70,369.30 L377.20,369.30 L377.70,369.30 L378.20,369.30 L378.70,369.30 L379.20,369.30 L379.70,369.30 L380.20,369.30 L380.70,369.30 L381.20,369.30 L381.70,369.30 L382.20,369.30 L382.70,369.30 L383.20,369.30 L383.70,369.30 L384.20,369.30 L384.70,369.30 L385.20,369.30 L385.70,369.30 L386.20,369.30 L386.70,369.30 L387.20,369.30 L387.70,369.30 L388.20,369.30 L388.70,369.30 L389.20,369.30 L389.70,369.30 L390.20,369.30 L390.70,369.30 L391.20,369.30 L391.70,369.30 L392.20,369.30 L392.70,369.30 L393.20,369.30 L393.70,369.30 L394.20,369.30 L394.70,369.30 L395.20,369.30 L395.70,369.30 L396.20,369.30 L396.70,369.30 L397.20,369.30 L397.70,369.30 L398.20,369.30 L398.70,369.30 L399.20,369.30 L399.70,369.30 L400.20,369.30 L400.70,369.30 L401.20,369.30 L401.70,369.30 L402.20,369.30 L402.70,369.30 L403.20,369.30 L403.70,369.29 L404.20,369.29 L404.70,369.29 L405.20,369.29 L405.70,369.29 L406.20,369.29 L406.70,369.29 L407.20,369.28 L407.70,369.28 L408.20,369.28 L408.70,369.28 L409.20,369.27 L409.70,369.27 L410.20,369.26 L410.70,369.26 L411.20,369.25 L411.70,369.24 L412.20,369.24 L412.70,369.23 L413.20,369.22 L413.70,369.21 L414.20,369.19 L414.70,369.18 L415.20,369.16 L415.70,369.14 L416.20,369.12 L416.70,369.10 L417.20,369.07 L417.70,369.05 L418.20,369.01 L418.70,368.98 L419.20,368.94 L419.70,368.90 L420.20,368.85 L420.70,368.80 L421.20,368.74 L421.70,368.68 L422.20,368.61 L422.70,368.53 L423.20,368.45 L423.70,368.35 L424.20,368.25 L424.70,368.14 L425.20,368.03 L425.70,367.89 L426.20,367.75 L426.70,367.60 L427.20,367.43 L427.70,367.25 L428.20,367.05 L428.70,366.83 L429.20,366.60 L429.70,366.35 L430.20,366.08 L430.70,365.79 L431.20,365.47 L431.70,365.14 L432.20,364.78 L432.70,364.39 L433.20,363.98 L433.70,363.54 L434.20,363.07 L434.70,362.57 L435.20,362.04 L435.70,361.47 L436.20,360.88 L436.70,360.25 L437.20,359.58 L437.70,358.88 L438.20,358.14 L438.70,357.36 L439.20,356.54 L439.70,355.68 L440.20,354.79 L440.70,353.85 L441.20,352.87 L441.70,351.86 L442.20,350.80 L442.70,349.70 L443.20,348.57 L443.70,347.39 L444.20,346.18 L444.70,344.92 L445.20,343.64 L445.70,342.32 L446.20,340.96 L446.70,339.58 L447.20,338.16 L447.70,336.72 L448.20,335.25 L448.70,333.76 L449.20,332.25 L449.70,330.73 L450.20,329.19 L450.70,327.64 L451.20,326.08 L451.70,324.52 L452.20,322.97 L452.70,321.41 L453.20,319.87 L453.70,318.34 L454.20,316.83 L454.70,315.33 L455.20,313.87 L455.70,312.43 L456.20,311.03 L456.70,309.67 L457.20,308.35 L457.70,307.08 L458.20,305.87 L458.70,304.70 L459.20,303.60 L459.70,302.56 L460.20,301.59 L460.70,300.69 L461.20,299.86 L461.70,299.11 L462.20,298.44 L462.70,297.85 L463.20,297.35 L463.70,296.93 L464.20,296.60 L464.70,296.36 L465.20,296.20 L465.70,296.14 L466.20,296.17 L466.70,296.29 L467.20,296.50 L467.70,296.81 L468.20,297.20 L468.70,297.67 L469.20,298.23 L469.70,298.88 L470.20,299.61 L470.70,300.42 L471.20,301.30 L471.70,302.26 L472.20,303.28 L472.70,304.38 L473.20,305.53 L473.70,306.75 L474.20,308.02 L474.70,309.34 L475.20,310.70 L475.70,312.11 L476.20,313.56 L476.70,315.04 L477.20,316.55 L477.70,318.09 L478.20,319.65 L478.70,321.22 L479.20,322.80 L479.70,324.40 L480.20,325.99 L480.70,327.59 L481.20,329.18 L481.70,330.77 L482.20,332.34 L482.70,333.90 L483.20,335.45 L483.70,336.97 L484.20,338.47 L484.70,339.95 L485.20,341.39 L485.70,342.81 L486.20,344.19 L486.70,345.54 L487.20,346.86 L487.70,348.14 L488.20,349.38 L488.70,350.58 L489.20,351.75 L489.70,352.87 L490.20,353.96 L490.70,355.00 L491.20,356.00 L491.70,356.96 L492.20,357.88 L492.70,358.77 L493.20,359.61 L493.70,360.41 L494.20,361.18 L494.70,361.90 L495.20,362.59 L495.70,363.25 L496.20,363.87 L496.70,364.46 L497.20,365.01 L497.70,365.53 L498.20,366.03 L498.70,366.49 L499.20,366.92 L499.70,367.33 L500.20,367.72 L500.70,368.07 L501.20,368.41 L501.70,368.72 L502.20,369.01 L502.70,369.29 L503.20,369.54 L503.70,369.78 L504.20,369.99 L504.70,370.20 L505.20,370.39 L505.70,370.56 L506.20,370.72 L506.70,370.87 L507.20,371.01 L507.70,371.14 L508.20,371.26 L508.70,371.37 L509.20,371.47 L509.70,371.56 L510.20,371.65 L510.70,371.73 L511.20,371.80 L511.70,371.87 L512.20,371.93 L512.70,371.99 L513.20,372.04 L513.70,372.09 L514.20,372.14 L514.70,372.18 L515.20,372.22 L515.70,372.25 L516.20,372.29 L516.70,372.32 L517.20,372.35 L517.70,372.38 L518.20,372.40 L518.70,372.43 L519.20,372.45 L519.70,372.47 L520.20,372.49 L520.70,372.51 L521.20,372.53 L521.70,372.54 L522.20,372.56 L522.70,372.57 L523.20,372.59 L523.70,372.60 L524.20,372.62 L524.70,372.63 L525.20,372.64 L525.70,372.65 L526.20,372.66 L526.70,372.67 L527.20,372.68 L527.70,372.69 L528.20,372.70 L528.70,372.71 L529.20,372.72 L529.70,372.72 L530.20,372.73 L530.70,372.74 L531.20,372.74 L531.70,372.75 L532.20,372.76 L532.70,372.76 L533.20,372.77 L533.70,372.77 L534.20,372.78 L534.70,372.78 L535.20,372.78 L535.70,372.79 L536.20,372.79 L536.70,372.79 L537.20,372.79 L537.70,372.80 L538.20,372.80 L538.70,372.80 L539.20,372.80 L539.70,372.80 L540.20,372.80 L540.70,372.80 L541.20,372.80 L541.70,372.80 L542.20,372.80 L542.70,372.80" fill="none" stroke="#ff00ff" stroke-width="1.6"/>
<path d="M314.20,369.30 L314.70,369.30 L315.20,369.30 L315.70,369.30 L316.20,369.30 L316.70,369.30 L317.20,369.30 L317.70,369.30 L318.20,369.30 L318.70,369.30 L319.20,369.30 L319.70,369.30 L320.20,369.30 L320.70,369.30 L321.20,369.30 L321.70,369.30 L322.20,369.30 L322.70,369.30 L323.20,369.30 L323.70,369.30 L324.20,369.30 L324.70,369.30 L325.20,369.30 L325.70,369.30 L326.20,369.30 L326.70,369.30 L327.20,369.30 L327.70,369.30 L328.20,369.30 L328.70,369.30 L329.20,369.30 L329.70,369.30 L330.20,369.30 L330.70,369.30 L331.20,369.30 L331.70,369.30 L332.20,369.30 L332.70,369.30 L333.20,369.30 L333.70,369.30 L334.20,369.30 L334.70,369.30 L335.20,369.30 L335.70,369.30 L336.20,369.30 L336.70,369.30 L337.20,369.30 L337.70,369.30 L338.20,369.30 L338.70,369.30 L339.20,369.30 L339.70,369.30 L340.20,369.30 L340.70,369.30 L341.20,369.30 L341.70,369.30 L342.20,369.30 L342.70,369.30 L343.20,369.30 L343.70,369.30 L344.20,369.30 L344.70,369.30 L345.20,369.30 L345.70,369.30 L346.20,369.30 L346.70,369.30 L347.20,369.30 L347.70,369.30 L348.20,369.30 L348.70,369.30 L349.20,369.30 L349.70,369.30 L350.20,369.30 L350.70,369.30 L351.20,369.30 L351.70,369.30 L352.20,369.30 L352.70,369.30 L353.20,369.30 L353.70,369.30 L354.20,369.30 L354.70,369.30 L355.20,369.30 L355.70,369.30 L356.20,369.30 L356.70,369.30 L357.20,369.30 L357.70,369.30 L358.20,369.30 L358.70,369.30 L359.20,369.30 L359.70,369.30 L360.20,369.30 L360.70,369.30 L361.20,369.30 L361.70,369.30 L362.20,369.30 L362.70,369.30 L363.20,369.30 L363.70,369.30 L364.20,369.30 L364.70,369.30 L365.20,369.30 L365.70,369.30 L366.20,369.30 L366.70,369.30 L367.20,369.30 L367.70,369.30 L368.20,369.30 L368.70,369.30 L369.20,369.30 L369.70,369.30 L370.20,369.30 L370.70,369.30 L371.20,369.30 L371.70,369.30 L372.20,369.30 L372.70,369.30 L373.20,369.30 L373.70,369.30 L374.20,369.30 L374.70,369.30 L375.20,369.30 L375.70,369.30 L376.20,369.30 L376.70,369.30 L377.20,369.30 L377.70,369.30 L378.20,369.30 L378.70,369.29 L379.20,369.29 L379.70,369.29 L380.20,369.29 L380.70,369.29 L381.20,369.29 L381.70,369.29 L382.20,369.29 L382.70,369.28 L383.20,369.28 L383.70,369.28 L384.20,369.28 L384.70,369.27 L385.20,369.27 L385.70,369.26 L386.20,369.26 L386.70,369.25 L387.20,369.25 L387.70,369.24 L388.20,369.23 L388.70,369.22 L389.20,369.21 L389.70,369.20 L390.20,369.19 L390.70,369.17 L391.20,369.16 L391.70,369.14 L392.20,369.12 L392.70,369.10 L393.20,369.08 L393.70,369.05 L394.20,369.02 L394.70,368.99 L395.20,368.95 L395.70,368.91 L396.20,368.87 L396.70,368.82 L397.20,368.76 L397.70,368.70 L398.20,368.64 L398.70,368.57 L399.20,368.49 L399.70,368.40 L400.20,368.31 L400.70,368.21 L401.20,368.10 L401.70,367.98 L402.20,367.85 L402.70,367.71 L403.20,367.55 L403.70,367.39 L404.20,367.21 L404.70,367.01 L405.20,366.80 L405.70,366.58 L406.20,366.34 L406.70,366.07 L407.20,365.79 L407.70,365.49 L408.20,365.17 L408.70,364.83 L409.20,364.46 L409.70,364.07 L410.20,363.66 L410.70,363.22 L411.20,362.75 L411.70,362.25 L412.20,361.72 L412.70,361.16 L413.20,360.57 L413.70,359.95 L414.20,359.30 L414.70,358.61 L415.20,357.89 L415.70,357.13 L416.20,356.34 L416.70,355.50 L417.20,354.64 L417.70,353.73 L418.20,352.79 L418.70,351.81 L419.20,350.79 L419.70,349.74 L420.20,348.64 L420.70,347.52 L421.20,346.35 L421.70,345.15 L422.20,343.92 L422.70,342.65 L423.20,341.35 L423.70,340.02 L424.20,338.66 L424.70,337.28 L425.20,335.86 L425.70,334.43 L426.20,332.97 L426.70,331.50 L427.20,330.01 L427.70,328.50 L428.20,326.99 L428.70,325.46 L429.20,323.94 L429.70,322.41 L430.20,320.88 L430.70,319.36 L431.20,317.85 L431.70,316.36 L432.20,314.88 L432.70,313.42 L433.20,311.98 L433.70,310.58 L434.20,309.20 L434.70,307.87 L435.20,306.57 L435.70,305.31 L436.20,304.11 L436.70,302.95 L437.20,301.85 L437.70,300.81 L438.20,299.83 L438.70,298.92 L439.20,298.07 L439.70,297.29 L440.20,296.58 L440.70,295.95 L441.20,295.40 L441.70,294.92 L442.20,294.53 L442.70,294.21 L443.20,293.98 L443.70,293.84 L444.20,293.78 L444.70,293.80 L445.20,293.91 L445.70,294.10 L446.20,294.37 L446.70,294.73 L447.20,295.17 L447.70,295.69 L448.20,296.29 L448.70,296.96 L449.20,297.71 L449.70,298.53 L450.20,299.42 L450.70,300.38 L451.20,301.40 L451.70,302.48 L452.20,303.62 L452.70,304.81 L453.20,306.05 L453.70,307.34 L454.20,308.68 L454.70,310.05 L455.20,311.46 L455.70,312.90 L456.20,314.36 L456.70,315.85 L457.20,317.36 L457.70,318.89 L458.20,320.43 L458.70,321.97 L459.20,323.53 L459.70,325.08 L460.20,326.63 L460.70,328.18 L461.20,329.72 L461.70,331.24 L462.20,332.76 L462.70,334.25 L463.20,335.73 L463.70,337.18 L464.20,338.61 L464.70,340.02 L465.20,341.40 L465.70,342.74 L466.20,344.06 L466.70,345.34 L467.20,346.59 L467.70,347.81 L468.20,348.98 L468.70,350.13 L469.20,351.23 L469.70,352.30 L470.20,353.33 L470.70,354.33 L471.20,355.28 L471.70,356.20 L472.20,357.08 L472.70,357.93 L473.20,358.74 L473.70,359.51 L474.20,360.25 L474.70,360.95 L475.20,361.62 L475.70,362.26 L476.20,362.86 L476.70,363.44 L477.20,363.98 L477.70,364.49 L478.20,364.98 L478.70,365.44 L479.20,365.87 L479.70,366.28 L480.20,366.66 L480.70,367.02 L481.20,367.36 L481.70,367.68 L482.20,367.97 L482.70,368.25 L483.20,368.51 L483.70,368.76 L484.20,368.99 L484.70,369.20 L485.20,369.40 L485.70,369.58 L486.20,369.76 L486.70,369.92 L487.20,370.07 L487.70,370.21 L488.20,370.34 L488.70,370.46 L489.20,370.57 L489.70,370.68 L490.20,370.77 L490.70,370.87 L491.20,370.95 L491.70,371.03 L492.20,371.10 L492.70,371.17 L493.20,371.24 L493.70,371.30 L494.20,371.35 L494.70,371.41 L495.20,371.46 L495.70,371.50 L496.20,371.55 L496.70,371.59 L497.20,371.63 L497.70,371.66 L498.20,371.70 L498.70,371.73 L499.20,371.77 L499.70,371.80 L500.20,371.83 L500.70,371.85 L501.20,371.88 L501.70,371.91 L502.20,371.93 L502.70,371.96 L503.20,371.98 L503.70,372.00 L504.20,372.02 L504.70,372.05 L505.20,372.07 L505.70,372.09 L506.20,372.11 L506.70,372.13 L507.20,372.15 L507.70,372.17 L508.20,372.18 L508.70,372.20 L509.20,372.22 L509.70,372.24 L510.20,372.25 L510.70,372.27 L511.20,372.29 L511.70,372.30 L512.20,372.32 L512.70,372.34 L513.20,372.35 L513.70,372.37 L514.20,372.38 L514.70,372.40 L515.20,372.41 L515.70,372.43 L516.20,372.44 L516.70,372.45 L517.20,372.47 L517.70,372.48 L518.20,372.50 L518.70,372.51 L519.20,372.52 L519.70,372.53 L520.20,372.55 L520.70,372.56 L521.20,372.57 L521.70,372.58 L522.20,372.59 L522.70,372.60 L523.20,372.61 L523.70,372.62 L524.20,372.63 L524.70,372.64 L525.20,372.65 L525.70,372.66 L526.20,372.67 L526.70,372.68 L527.20,372.69 L527.70,372.70 L528.20,372.71 L528.70,372.71 L529.20,372.72 L529.70,372.73 L530.20,372.73 L530.70,372.74 L531.20,372.75 L531.70,372.75 L532.20,372.76 L532.70,372.76 L533.20,372.77 L533.70,372.77 L534.20,372.78 L534.70,372.78 L535.20,372.78 L535.70,372.79 L536.20,372.79 L536.70,372.79 L537.20,372.79 L537.70,372.80 L538.20,372.80 L538.70,372.80 L539.20,372.80 L539.70,372.80 L540.20,372.80 L540.70,372.80 L541.20,372.80 L541.70,372.80 L542.20,372.80 L542.70,372.80" fill="none" stroke="#008b8b" stroke-width="1.6"/>
<text x="382.70" y="335.00" font-size="9.5" fill="#808000" text-anchor="start" textLength="16.60" lengthAdjust="spacingAndGlyphs" >N-C</text>
<text x="393.20" y="272.70" font-size="9.6" fill="#009999" text-anchor="start" textLength="43.90" lengthAdjust="spacingAndGlyphs" >pyrrolic-N</text>
<text x="481.60" y="293.30" font-size="9.5" fill="#ff00ff" text-anchor="start" textLength="19.50" lengthAdjust="spacingAndGlyphs" >C=N</text>
<text x="514.50" y="244.00" font-size="11.2" fill="#000" text-anchor="start" textLength="21.30" lengthAdjust="spacingAndGlyphs" >N 1s</text>
<text x="369.20" y="426.40" font-size="13.6" fill="#000" text-anchor="start" textLength="119.00" lengthAdjust="spacingAndGlyphs" >Binding Energy (eV)</text>
<text transform="translate(303.90,319.50) rotate(-90)" font-size="13.6" text-anchor="middle" textLength="84.90" lengthAdjust="spacingAndGlyphs">Intensity (a.u.)</text>
<text x="281.40" y="230.40" font-size="20.5" fill="#000" text-anchor="start" textLength="25.00" lengthAdjust="spacingAndGlyphs" >(d)</text>
</svg>
</body></html>
